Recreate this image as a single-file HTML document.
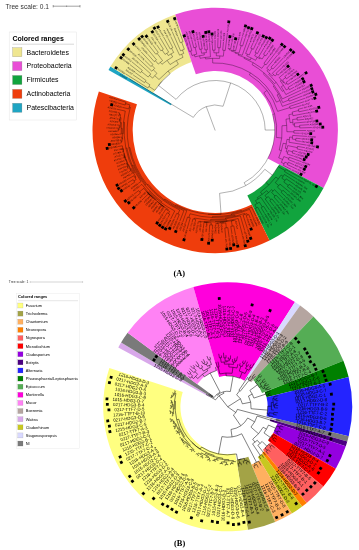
<!DOCTYPE html>
<html lang="en"><head><meta charset="utf-8"><title>Phylogenetic trees</title>
<style>
html,body{margin:0;padding:0;background:#fff}
body{width:359px;height:550px;overflow:hidden}
svg{display:block}
text{font-family:"Liberation Sans",Arial,sans-serif;fill:#000}
.ser{font-family:"Liberation Serif","Times New Roman",serif;font-weight:bold}
</style></head><body>
<svg width="359" height="550" viewBox="0 0 359 550">
<rect width="359" height="550" fill="#fff"/>
<g id="treeA">
<path d="M108.51 69.89A122.7 122.7 0 0 1 110.47 66.57L171.67 103.93A51 51 0 0 0 170.86 105.31Z" fill="#1FA5C3"/>
<path d="M110.47 66.57A122.7 122.7 0 0 1 175.25 14.48L191.6 61.95A72.5 72.5 0 0 0 153.32 92.73Z" fill="#EFE690"/>
<path d="M175.25 14.48A122.7 122.7 0 0 1 323.54 188.1L267.74 158.43A59.5 59.5 0 0 0 195.83 74.24Z" fill="#E94ED6"/>
<path d="M323.54 188.1A122.7 122.7 0 0 1 269.56 240.5L247.32 195.5A72.5 72.5 0 0 0 279.21 164.54Z" fill="#11A43E"/>
<path d="M269.56 240.5A122.7 122.7 0 0 1 98.84 91.57L136.96 104.32A82.5 82.5 0 0 0 251.75 204.46Z" fill="#EF3D0C"/>
<path d="M215.2 130.5L206.27 106.61M193.34 117.37A25.5 25.5 0 0 1 223.08 106.25M223.08 106.25L230.65 82.95M193.34 117.37L129.48 79M176.07 99.37A50 50 0 0 1 265.2 130.06M176.07 99.37L158.46 85.37M158.46 85.37A72.5 72.5 0 0 1 161.84 81.42M265.2 130.06L274.9 129.98M272.68 114.39A59.7 59.7 0 0 1 244.14 182.71M272.68 114.39L274.42 113.9M244.14 182.71L245.74 185.6M264.84 169.29A63 63 0 0 1 219.59 193.35M264.84 169.29L272.33 175.14M272.58 174.81A72.5 72.5 0 0 1 272.33 175.14M219.59 193.35L221.06 214.3M221.06 214.3A84 84 0 0 1 208.03 214.19" fill="none" stroke="#000" stroke-width="0.36" stroke-opacity="0.85"/>
<path d="M144.51 82.64A85.37 85.37 0 0 1 146.04 80.44M144.51 82.64L133.11 74.92M146.04 80.44L135.14 72.55M147.92 87.97A79.59 79.59 0 0 1 150 84.85M147.92 87.97L125.4 73.73M150 84.85L145.27 81.53M140.51 72.78A94.39 94.39 0 0 1 142.36 70.46M140.51 72.78L129.75 64.46M142.36 70.46L131.86 61.8M148.23 77.04A85.69 85.69 0 0 1 150.82 73.94M148.23 77.04L141.43 71.61M150.82 73.94L138.99 63.54M151.01 66.53A90.62 90.62 0 0 1 153.05 64.55M151.01 66.53L144.73 60.28M153.05 64.55L141.13 51.9M151.84 71.21A86.77 86.77 0 0 1 154.71 68.29M151.84 71.21L136.34 56.71M154.71 68.29L152.02 65.53M152.64 78.1A81.61 81.61 0 0 1 156.94 73.35M152.64 78.1L149.51 75.48M156.94 73.35L153.26 69.74M154.29 61.65A91.93 91.93 0 0 1 156.48 59.77M154.29 61.65L147.63 54.12M156.48 59.77L146.21 47.4M155.87 54.28A96.59 96.59 0 0 1 158.29 52.46M155.87 54.28L148.86 45.28M158.29 52.46L152.98 45.17M158.27 64.08A87.49 87.49 0 0 1 162.55 60.63M158.27 64.08L155.38 60.7M162.55 60.63L157.07 53.36M160.89 50.88A96.38 96.38 0 0 1 163.42 49.22M160.89 50.88L156.61 44.61M163.42 49.22L158.3 41.19M165.04 54.42A91.13 91.13 0 0 1 168.68 52.15M165.04 54.42L162.15 50.04M168.68 52.15L160.06 37.64M170.25 49.07A93.01 93.01 0 0 1 172.83 47.7M170.25 49.07L163.42 36.69M172.83 47.7L167.99 38.24M168.28 55.56A88.42 88.42 0 0 1 173.69 52.43M168.28 55.56L166.84 53.26M173.69 52.43L171.53 48.37M161.95 64.27A84.99 84.99 0 0 1 172.67 56.92M161.95 64.27L160.38 62.32M172.67 56.92L170.96 53.95M180.27 42.72A94.48 94.48 0 0 1 183.04 41.66M180.27 42.72L177.76 36.42M183.04 41.66L178.44 28.95M180.55 50.82A86.89 86.89 0 0 1 184.34 49.27M180.55 50.82L172.14 31.46M184.34 49.27L181.65 42.18M179.59 55.17A83.32 83.32 0 0 1 183.79 53.33M179.59 55.17L170.75 36.48M183.79 53.33L182.44 50.02M170.02 64.55A79.94 79.94 0 0 1 183.03 57.31M170.02 64.55L167.17 60.39M183.03 57.31L181.68 54.22M158.99 79.53A75.88 75.88 0 0 1 178.33 64.18M158.99 79.53L154.74 75.68M178.33 64.18L176.36 60.63M154.85 90.33A72.5 72.5 0 0 1 170.13 73.71M154.85 90.33L148.94 86.4M170.13 73.71L168.03 71.06M189.36 51.44A83.18 83.18 0 0 1 191.86 50.66M189.36 51.44L187.7 46.35M191.86 50.66L188.8 40.19M193.81 47.76A85.46 85.46 0 0 1 196.43 47.13M193.81 47.76L191.66 39.43M196.43 47.13L195.38 42.5M191.99 55.5A78.52 78.52 0 0 1 196.75 54.18M191.99 55.5L190.61 51.04M196.75 54.18L195.12 47.43M199.6 49.39A82.6 82.6 0 0 1 202.16 48.94M199.6 49.39L197.92 40.67M202.16 48.94L200.81 40.53M204.9 49.93A81.22 81.22 0 0 1 207.44 49.65M204.9 49.93L204.57 47.3M207.44 49.65L206.84 43.35M201.6 53.26A78.43 78.43 0 0 1 206.48 52.56M201.6 53.26L200.88 49.15M206.48 52.56L206.17 49.78M194.93 56.9A76.34 76.34 0 0 1 204.33 54.94M194.93 56.9L194.36 54.8M204.33 54.94L204.04 52.87M200.13 58.32A73.74 73.74 0 0 1 210.47 56.91M200.13 58.32L199.6 55.77M210.47 56.91L209.57 42.84M212.57 50.21A80.33 80.33 0 0 1 215.1 50.17M212.57 50.21L212.4 45.07M215.1 50.17L215.09 39.98M217.7 47.65A82.89 82.89 0 0 1 220.31 47.77M217.7 47.65L218 37.93M220.31 47.77L220.81 39.64M213.88 52.79A77.72 77.72 0 0 1 218.77 52.86M213.88 52.79L213.83 50.18M218.77 52.86L219.01 47.7M222.7 50.21A80.63 80.63 0 0 1 225.22 50.49M222.7 50.21L223.48 41.82M225.22 50.49L227.43 32.81M216.28 55.78A74.73 74.73 0 0 1 223.32 56.21M216.28 55.78L216.32 52.79M223.32 56.21L223.96 50.34M205.48 58.94A72.22 72.22 0 0 1 219.65 58.42M205.48 58.94L205.28 57.43M219.65 58.42L219.81 55.91M228.1 48.52A82.99 82.99 0 0 1 230.67 48.97M228.1 48.52L228.25 47.58M230.67 48.97L231.93 42.32M233.11 50.02A82.45 82.45 0 0 1 235.63 50.62M233.11 50.02L233.23 49.48M235.63 50.62L238.11 40.92M229.2 49.8A81.9 81.9 0 0 1 234.25 50.84M229.2 49.8L229.39 48.73M234.25 50.84L234.37 50.31M239.89 45.23A88.77 88.77 0 0 1 242.56 46.05M239.89 45.23L242.42 36.49M242.56 46.05L245.13 38.13M231.53 51.26A80.9 80.9 0 0 1 238.93 53.15M231.53 51.26L231.73 50.28M238.93 53.15L241.23 45.63M235 53.09A79.9 79.9 0 0 1 242.21 55.3M235 53.09L235.25 52.12M242.21 55.3L248.07 38.99M250.76 48.19A89.67 89.67 0 0 1 253.33 49.34M250.76 48.19L253.02 42.95M253.33 49.34L256.62 42.33M245.64 53.44A82.85 82.85 0 0 1 249.25 54.97M245.64 53.44L249.89 42.69M249.25 54.97L252.05 48.75M255.02 52.25A87.8 87.8 0 0 1 257.46 53.54M255.02 52.25L258.18 46.02M257.46 53.54L260.94 47.19M263.51 54.31A90.22 90.22 0 0 1 265.88 55.86M263.51 54.31L266.5 49.59M265.88 55.86L268.15 52.52M258.69 56.88A85.5 85.5 0 0 1 262.11 59.02M258.69 56.88L264.11 47.7M262.11 59.02L264.7 55.08M254.68 55.83A84.46 84.46 0 0 1 259.86 58.81M254.68 55.83L256.24 52.88M259.86 58.81L260.41 57.93M246.72 55.93A80.96 80.96 0 0 1 255.55 60.32M246.72 55.93L247.45 54.18M255.55 60.32L257.3 57.28M238.29 55.23A78.73 78.73 0 0 1 250.21 59.98M238.29 55.23L238.63 54.11M250.21 59.98L251.2 57.99M263.93 63.38A82.95 82.95 0 0 1 266.02 64.94M263.93 63.38L269.72 55.41M266.02 64.94L275.12 53.21M243.98 58.29A77.73 77.73 0 0 1 261.85 68.33M243.98 58.29L244.35 57.36M261.85 68.33L264.98 64.15M270.93 67.26A84.29 84.29 0 0 1 272.89 69.05M270.93 67.26L274.03 63.74M272.89 69.05L283.21 58.06M266.7 68.22A80.82 80.82 0 0 1 269.58 70.72M266.7 68.22L277.55 55.1M269.58 70.72L271.92 68.15M276.14 73.27A83.6 83.6 0 0 1 277.91 75.21M276.14 73.27L281.81 67.94M277.91 75.21L279.78 73.57M272.41 73.27A80.92 80.92 0 0 1 275.05 76.04M272.41 73.27L285.67 60.02M275.05 76.04L277.03 74.23M266.95 70.84A78.98 78.98 0 0 1 272.34 75.98M266.95 70.84L268.15 69.45M272.34 75.98L273.75 74.64M284.78 76.54A88.05 88.05 0 0 1 286.44 78.75M284.78 76.54L287.01 74.81M286.44 78.75L289.87 76.26M286.2 82.26A85.84 85.84 0 0 1 287.69 84.52M286.2 82.26L288.75 80.54M287.69 84.52L296.75 78.77M282.52 79.97A84.18 84.18 0 0 1 285.56 84.3M282.52 79.97L285.62 77.64M285.56 84.3L286.95 83.38M279.29 77.48A83.18 83.18 0 0 1 283.26 82.68M279.29 77.48L284.13 73.48M283.26 82.68L284.07 82.11M288.17 87.37A84.77 84.77 0 0 1 289.5 89.68M288.17 87.37L293.19 84.4M289.5 89.68L294.34 87.02M280.24 80.87A81.81 81.81 0 0 1 286.27 89.99M280.24 80.87L281.32 80.04M286.27 89.99L288.84 88.52M281.28 86.73A79.26 79.26 0 0 1 285.84 94.54M281.28 86.73L283.41 85.33M285.84 94.54L296.46 89.13M268.81 74.28A77.68 77.68 0 0 1 282.31 91.37M268.81 74.28L269.71 73.34M282.31 91.37L283.67 90.57M252.15 64.67A75.49 75.49 0 0 1 274.44 83.71M252.15 64.67L253.24 62.72M274.44 83.71L276.16 82.35M263.39 74.08A74.2 74.2 0 0 1 282.35 98.93M263.39 74.08L264.23 73.1M282.35 98.93L301.22 90.06M288.42 98.85A79.76 79.76 0 0 1 289.38 101.17M288.42 98.85L301.75 93.09M289.38 101.17L302.56 95.96M273.31 86.17A73.08 73.08 0 0 1 282.73 102.56M273.31 86.17L274.2 85.49M282.73 102.56L288.9 100.01M277.07 94.91A71.37 71.37 0 0 1 282.37 106.36M277.07 94.91L278.55 94.06M282.37 106.36L305.46 98.06M212.72 63A67.55 67.55 0 0 1 276.5 102.13M212.72 63L212.55 58.33M276.5 102.13L279.97 100.52M289.63 106.36A78.24 78.24 0 0 1 290.35 108.72M289.63 106.36L304.37 101.58M290.35 108.72L301.54 105.47M249.36 74.83A65.31 65.31 0 0 1 277.64 111.33M249.36 74.83L250.53 72.92M277.64 111.33L290 107.54M298.29 109.22A85.77 85.77 0 0 1 298.92 111.85M298.29 109.22L303.42 107.91M298.92 111.85L308.08 109.81M292.14 112.08A79.12 79.12 0 0 1 292.93 115.73M292.14 112.08L298.62 110.53M292.93 115.73L305.85 113.28M296.96 117.62A82.77 82.77 0 0 1 297.33 120.2M296.96 117.62L302.13 116.8M297.33 120.2L304.35 119.31M299.64 125.27A84.6 84.6 0 0 1 299.76 127.93M299.64 125.27L309.22 124.67M299.76 127.93L311.8 127.56M294.4 123.08A79.55 79.55 0 0 1 294.66 126.83M294.4 123.08L305.92 122.01M294.66 126.83L299.71 126.6M292.57 119.55A78.14 78.14 0 0 1 293.15 125.05M292.57 119.55L297.16 118.91M293.15 125.05L294.55 124.96M288.82 114.71A75.29 75.29 0 0 1 290.08 122.6M288.82 114.71L292.56 113.9M290.08 122.6L292.91 122.3M293.91 130.58A78.71 78.71 0 0 1 293.87 133.06M293.91 130.58L306.11 130.59M293.87 133.06L299.75 133.25M285.98 119.21A71.68 71.68 0 0 1 286.87 131.7M285.98 119.21L289.55 118.64M286.87 131.7L293.9 131.82M295.91 138.22A81.08 81.08 0 0 1 295.63 140.76M295.91 138.22L300.76 138.69M295.63 140.76L300.83 141.42M292.64 135.46A77.6 77.6 0 0 1 292.32 139.11M292.64 135.46L306.94 136.38M292.32 139.11L295.78 139.49M289.64 137.03A74.73 74.73 0 0 1 288.99 142.28M289.64 137.03L292.5 137.29M288.99 142.28L306.65 145.1M297.59 146.33A83.9 83.9 0 0 1 297.05 148.91M297.59 146.33L305.09 147.77M297.05 148.91L303.54 150.37M292.82 150.54A80.16 80.16 0 0 1 292.15 152.98M292.82 150.54L297.5 151.75M292.15 152.98L295.61 153.99M288.23 150.59A75.74 75.74 0 0 1 287.2 154.01M288.23 150.59L292.49 151.76M287.2 154.01L293.75 156.15M287.73 145.62A74.09 74.09 0 0 1 286.15 151.83M287.73 145.62L297.33 147.62M286.15 151.83L287.73 152.31M286.95 139.37A72.3 72.3 0 0 1 285.27 148.3M286.95 139.37L289.36 139.66M285.27 148.3L287.01 148.74M289.22 157.28A78.72 78.72 0 0 1 288.34 159.59M289.22 157.28L301.63 161.77M288.34 159.59L295.47 162.43M288.39 162.31A79.8 79.8 0 0 1 287.35 164.6M288.39 162.31L294.24 164.86M287.35 164.6L297.11 169.21M284.9 162.11A76.53 76.53 0 0 1 283.33 165.36M284.9 162.11L287.88 163.46M283.33 165.36L291.24 169.41M283.82 156.55A73.4 73.4 0 0 1 281.31 162.38M283.82 156.55L288.79 158.44M281.31 162.38L284.13 163.74M283.14 143.28A69.13 69.13 0 0 1 278.71 157.81M283.14 143.28L286.25 143.86M278.71 157.81L282.63 159.5M281.99 125.77A66.96 66.96 0 0 1 279.25 150.03M281.99 125.77L286.7 125.43M279.25 150.03L281.33 150.67M263.82 92.83A61.5 61.5 0 0 1 276.31 137.41M263.82 92.83L266.83 90.5M276.31 137.41L281.74 138.03M285.79 169.45A80.62 80.62 0 0 1 284.54 171.63M285.79 169.45L303.09 179M284.54 171.63L296.97 179.01M289.15 184.29A91.44 91.44 0 0 1 287.44 186.57M289.15 184.29L293.57 187.51M287.44 186.57L291.83 189.98M286.14 178.8A85.83 85.83 0 0 1 283.81 182.06M286.14 178.8L294.75 184.66M283.81 182.06L288.3 185.44M284.34 174.48A81.94 81.94 0 0 1 281.84 178.18M284.34 174.48L295.46 181.56M281.84 178.18L285 180.44M282.95 190.21A90.31 90.31 0 0 1 281.06 192.29M282.95 190.21L286.96 193.74M281.06 192.29L285.94 196.87M279.96 184.08A84.05 84.05 0 0 1 277.39 187.05M279.96 184.08L289.94 192.33M277.39 187.05L282.02 191.26M281.14 175.02A79.56 79.56 0 0 1 275.3 182.64M281.14 175.02L283.11 176.35M275.3 182.64L278.69 185.58M275.99 195.1A88.71 88.71 0 0 1 273.95 196.97M275.99 195.1L281.59 201.06M273.95 196.97L279.44 203.18M274.48 189.69A83.78 83.78 0 0 1 271.65 192.4M274.48 189.69L283.18 198.38M271.65 192.4L274.98 196.04M271.91 198.84A88.81 88.81 0 0 1 269.76 200.58M271.91 198.84L275.92 203.67M269.76 200.58L273.91 205.91M268.29 196.54A84.73 84.73 0 0 1 265.14 198.95M268.29 196.54L270.84 199.72M265.14 198.95L270.89 206.83M271.75 189.67A81.85 81.85 0 0 1 264.98 195.48M271.75 189.67L273.08 191.06M264.98 195.48L266.73 197.76M263.52 206.21A89.81 89.81 0 0 1 261.14 207.67M263.52 206.21L267.39 212.27M261.14 207.67L264.72 213.69M257.7 207.25A87.73 87.73 0 0 1 255.29 208.54M257.7 207.25L262.11 215.2M255.29 208.54L258.86 215.48M259.37 202.14A84.17 84.17 0 0 1 254.82 204.76M259.37 202.14L262.33 206.95M254.82 204.76L256.5 207.9M260.81 197.28A80.86 80.86 0 0 1 255.47 200.62M260.81 197.28L269.47 209.96M255.47 200.62L257.12 203.49M266.74 190.67A79.23 79.23 0 0 1 257.3 197.61M266.74 190.67L268.45 192.67M257.3 197.61L258.17 199M275.88 177.04A76.47 76.47 0 0 1 260.52 192.1M275.88 177.04L278.33 178.91M260.52 192.1L262.15 194.32M278.12 166.51A72.5 72.5 0 0 1 265.95 182.27M278.12 166.51L285.17 170.55M265.95 182.27L268.73 185.11M248.82 214.54A90.51 90.51 0 0 1 246.17 215.55M248.82 214.54L250.29 218.21M246.17 215.55L247.33 218.74M246.96 213.64A89 89 0 0 1 243.02 215.04M246.96 213.64L247.5 215.05M243.02 215.04L247.25 227.92M233.77 225.85A97.15 97.15 0 0 1 230.77 226.39M233.77 225.85L235.62 235.31M230.77 226.39L232 233.91M235.59 220.08A91.88 91.88 0 0 1 231.35 220.94M235.59 220.08L235.61 220.21M231.35 220.94L232.28 226.13M227.86 227.62A97.94 97.94 0 0 1 224.81 227.96M227.86 227.62L229.16 237.59M224.81 227.96L225.8 237.98M225.77 222.83A92.93 92.93 0 0 1 221.41 223.22M225.77 222.83L226.34 227.8M221.41 223.22L221.44 223.62M218.51 223.72A93.28 93.28 0 0 1 215.59 223.78M218.51 223.72L218.55 224.68M215.59 223.78L215.59 224.52M223.56 222.66A92.54 92.54 0 0 1 217.04 223.02M223.56 222.66L223.59 223.05M217.04 223.02L217.05 223.76M233.45 220.42A91.75 91.75 0 0 1 220.26 222.11M233.45 220.42L233.47 220.54M220.26 222.11L220.3 222.9M212.63 224.96A94.5 94.5 0 0 1 209.67 224.84M212.63 224.96L212.51 229.18M209.67 224.84L209.24 232.17M206.88 222.71A92.58 92.58 0 0 1 204 222.4M206.88 222.71L206.87 222.85M204 222.4L203.24 228.62M211.24 222.84A92.42 92.42 0 0 1 205.46 222.41M211.24 222.84L211.15 224.91M205.46 222.41L205.44 222.57M201.09 222.16A92.74 92.74 0 0 1 198.23 221.68M201.09 222.16L201 222.78M198.23 221.68L197.74 224.31M208.37 222.36A92.11 92.11 0 0 1 199.76 221.31M208.37 222.36L208.34 222.67M199.76 221.31L199.66 221.93M226.85 221.26A91.5 91.5 0 0 1 204.13 221.33M226.85 221.26L226.88 221.5M204.13 221.33L204.05 221.94M238.16 218.55A91 91 0 0 1 215.49 221.5M238.16 218.55L242.46 235M215.49 221.5L215.49 222M195.73 219.46A91.06 91.06 0 0 1 192.95 218.8M195.73 219.46L195.22 221.81M192.95 218.8L192.02 222.51M226.79 219.75A90 90 0 0 1 194.59 218.11M226.79 219.75L226.92 220.74M194.59 218.11L194.34 219.14M240.35 215.87A89 89 0 0 1 210.67 219.38M240.35 215.87L244.69 230.59M210.67 219.38L210.61 220.38M244.66 213.42A88 88 0 0 1 225.54 217.89M244.66 213.42L245 214.36M225.54 217.89L225.66 218.88M190.25 217.87A90.86 90.86 0 0 1 187.52 217.04M190.25 217.87L187.04 229.13M187.52 217.04L185.64 222.92M235 215.22A87 87 0 0 1 190 213.77M235 215.22L235.23 216.19M190 213.77L188.88 217.46M249.64 209.3A86 86 0 0 1 212.44 216.46M249.64 209.3L253.37 217.86M212.44 216.46L212.4 217.46M251.66 207.28A85 85 0 0 1 231.25 213.97M251.66 207.28L255.97 216.35M231.25 213.97L231.43 214.95M179.31 214.54A91.38 91.38 0 0 1 176.69 213.37M179.31 214.54L176.75 220.53M176.69 213.37L174.36 218.38M169.72 214.19A95.25 95.25 0 0 1 167.12 212.73M169.72 214.19L167.86 217.62M167.12 212.73L165.31 215.83M169.58 211.4A92.88 92.88 0 0 1 165.83 209.17M169.58 211.4L168.42 213.47M165.83 209.17L162.97 213.71M163.89 206.83A91.97 91.97 0 0 1 161.52 205.18M163.89 206.83L163.87 206.85M161.52 205.18L161.5 205.2M162.72 205.99A91.94 91.94 0 0 1 159.22 203.43M162.72 205.99L162.7 206.01M159.22 203.43L158.08 204.92M168.2 209.45A91.88 91.88 0 0 1 160.99 204.68M168.2 209.45L167.69 210.31M160.99 204.68L160.96 204.73M164.61 207.05A91.75 91.75 0 0 1 157.08 201.5M164.61 207.05L164.54 207.15M157.08 201.5L156.88 201.75M150.5 195.89A91.98 91.98 0 0 1 148.49 193.83M150.5 195.89L150.49 195.9M148.49 193.83L141.73 200.24M149.5 194.86A91.97 91.97 0 0 1 146.54 191.69M149.5 194.86L149.49 194.87M146.54 191.69L146.46 191.77M152.62 197.85A91.94 91.94 0 0 1 148.02 193.27M152.62 197.85L151.72 198.82M148.02 193.27L148 193.29M140.55 192.95A97.33 97.33 0 0 1 138.63 190.58M140.55 192.95L137.27 195.69M138.63 190.58L134.03 194.18M150.32 195.56A91.88 91.88 0 0 1 143.81 188.34M150.32 195.56L150.28 195.6M143.81 188.34L139.58 191.77M154.88 199.64A91.75 91.75 0 0 1 147.06 191.95M154.88 199.64L154.35 200.26M147.06 191.95L146.97 192.03M160.92 204.17A91.51 91.51 0 0 1 151.03 195.74M160.92 204.17L160.77 204.37M151.03 195.74L150.86 195.91M156.15 199.76A91.01 91.01 0 0 1 141.87 184.41M156.15 199.76L155.83 200.13M141.87 184.41L140.28 185.57M174.72 210.92A90.03 90.03 0 0 1 149.28 191.82M174.72 210.92L170.6 219.1M149.28 191.82L148.56 192.49M134.76 182.19A95.62 95.62 0 0 1 133.17 179.64M134.76 182.19L130.64 184.83M133.17 179.64L128.04 182.72M136.16 179.56A93.03 93.03 0 0 1 133.94 175.79M136.16 179.56L133.96 180.92M133.94 175.79L126.7 179.82M128.13 168.79A95.11 95.11 0 0 1 126.98 166.04M128.13 168.79L127.67 168.99M126.98 166.04L126.35 166.29M128.05 167.2A94.57 94.57 0 0 1 126.42 163.06M128.05 167.2L127.54 167.42M126.42 163.06L125.79 163.3M124.39 157.48A94.73 94.73 0 0 1 123.59 154.62M124.39 157.48L122.44 158.06M123.59 154.62L123.4 154.67M125.52 160.24A94.48 94.48 0 0 1 124.22 155.99M125.52 160.24L125.07 160.39M124.22 155.99L123.98 156.05M123.45 151.6A94.15 94.15 0 0 1 122.83 148.72M123.45 151.6L122.02 151.93M122.83 148.72L122.8 148.72M123.16 150.15A94.11 94.11 0 0 1 122.34 145.8M123.16 150.15L123.13 150.16M122.34 145.8L118.04 146.51M125.27 157.99A94.04 94.04 0 0 1 122.8 147.97M125.27 157.99L124.84 158.12M122.8 147.97L122.73 147.98M127.83 164.9A93.89 93.89 0 0 1 124.04 152.98M127.83 164.9L127.21 165.14M124.04 152.98L123.9 153.01M130.74 170.85A93.61 93.61 0 0 1 126.01 158.91M130.74 170.85L128.83 171.76M126.01 158.91L125.74 159M132.56 173.21A93.03 93.03 0 0 1 128.7 164.75M132.56 173.21L131.05 173.99M128.7 164.75L128.17 164.96M135.89 177.18A92.03 92.03 0 0 1 131.43 168.62M135.89 177.18L135.02 177.68M131.43 168.62L130.52 169.03M121.33 142.96A94.69 94.69 0 0 1 120.99 140.01M121.33 142.96L120.28 143.1M120.99 140.01L119.73 140.14M122.17 141.37A93.66 93.66 0 0 1 121.76 136.98M122.17 141.37L121.15 141.49M121.76 136.98L121.13 137.02M118.24 131.13A96.96 96.96 0 0 1 118.27 128.09M118.24 131.13L117.32 131.14M118.27 128.09L115.4 128.02M119.17 129.62A96.03 96.03 0 0 1 119.32 125.1M119.17 129.62L118.25 129.61M119.32 125.1L116.56 124.95M119.19 122.07A96.38 96.38 0 0 1 119.51 119.06M119.19 122.07L118.75 122.03M119.51 119.06L118.47 118.94M119.07 115.94A97.23 97.23 0 0 1 119.58 112.93M119.07 115.94L118.1 115.79M119.58 112.93L117.8 112.6M119.78 120.61A95.93 95.93 0 0 1 120.59 114.65M119.78 120.61L119.34 120.56M120.59 114.65L119.31 114.43M120.22 127.39A95.03 95.03 0 0 1 121.03 117.74M120.22 127.39L119.22 127.36M121.03 117.74L120.14 117.62M121.24 134.06A94.03 94.03 0 0 1 121.5 122.64M121.24 134.06L119.25 134.13M121.5 122.64L120.5 122.56M122.57 139.12A93.03 93.03 0 0 1 122.19 128.37M122.57 139.12L121.94 139.18M122.19 128.37L121.19 128.35M123.23 133.71A92.03 92.03 0 0 1 125.25 111.04M123.23 133.71L122.23 133.75M125.25 111.04L116.62 109.17M134.44 172.49A91.03 91.03 0 0 1 124.53 122.4M134.44 172.49L133.55 172.96M124.53 122.4L123.54 122.31M141.02 181.52A90.03 90.03 0 0 1 126.88 147.96M141.02 181.52L138.18 183.48M126.88 147.96L125.9 148.16M161.75 201.7A89.03 89.03 0 0 1 133.16 165.08M161.75 201.7L161.15 202.5M133.16 165.08L132.24 165.46M125.18 105.02A93.56 93.56 0 0 1 126.02 102.21M125.18 105.02L117.92 102.97M126.02 102.21L117.98 99.66M128.82 108.95A89.03 89.03 0 0 1 129.93 104.91M128.82 108.95L122.37 107.34M129.93 104.91L125.59 103.61M145.81 184.67A88.03 88.03 0 0 1 130.31 107.19M145.81 184.67L145.02 185.29M130.31 107.19L129.35 106.93M179.77 209.99A87.03 87.03 0 0 1 129.86 147.57M179.77 209.99L177.99 213.96M129.86 147.57L128.88 147.77M183.91 210.64A86.03 86.03 0 0 1 148.01 184.22M183.91 210.64L179.77 221.23M148.01 184.22L147.23 184.85M186.77 210.64A85.03 85.03 0 0 1 164.81 198.99M186.77 210.64L182.64 222.27M164.81 198.99L164.22 199.8M241.35 210.32A84 84 0 0 1 175.85 204.71M241.35 210.32L241.67 211.27M175.85 204.71L175.36 205.62" fill="none" stroke="#000" stroke-width="0.4" stroke-opacity="0.85"/>
<g font-size="2.3" fill-opacity="0.88">
<text transform="translate(127.02 78.56) rotate(30.5)" y="0.8" text-anchor="end">ASV565</text>
<text transform="translate(124.89 73.41) rotate(32.3)" y="0.8" text-anchor="end">ASV568</text>
<text transform="translate(132.61 74.59) rotate(34.1)" y="0.8" text-anchor="end">ASV937</text>
<text transform="translate(134.65 72.19) rotate(35.9)" y="0.8" text-anchor="end">ASV398</text>
<text transform="translate(129.27 64.09) rotate(37.7)" y="0.8" text-anchor="end">ASV984</text>
<text transform="translate(131.4 61.42) rotate(39.5)" y="0.8" text-anchor="end">ASV819</text>
<text transform="translate(138.53 63.15) rotate(41.3)" y="0.8" text-anchor="end">ASV536</text>
<text transform="translate(135.9 56.3) rotate(43.1)" y="0.8" text-anchor="end">ASV609</text>
<text transform="translate(144.31 59.86) rotate(44.9)" y="0.8" text-anchor="end">ASV915</text>
<text transform="translate(140.72 51.46) rotate(46.7)" y="0.8" text-anchor="end">ASV477</text>
<text transform="translate(147.23 53.67) rotate(48.5)" y="0.8" text-anchor="end">ASV854</text>
<text transform="translate(145.83 46.94) rotate(50.3)" y="0.8" text-anchor="end">ASV853</text>
<text transform="translate(148.49 44.81) rotate(52.1)" y="0.8" text-anchor="end">ASV687</text>
<text transform="translate(152.62 44.68) rotate(53.9)" y="0.8" text-anchor="end">ASV632</text>
<text transform="translate(156.27 44.11) rotate(55.7)" y="0.8" text-anchor="end">ASV185</text>
<text transform="translate(157.98 40.68) rotate(57.5)" y="0.8" text-anchor="end">ASV524</text>
<text transform="translate(159.76 37.12) rotate(59.3)" y="0.8" text-anchor="end">ASV372</text>
<text transform="translate(163.13 36.17) rotate(61.1)" y="0.8" text-anchor="end">ASV453</text>
<text transform="translate(167.72 37.71) rotate(62.9)" y="0.8" text-anchor="end">ASV706</text>
<text transform="translate(170.5 35.93) rotate(64.7)" y="0.8" text-anchor="end">ASV905</text>
<text transform="translate(171.9 30.91) rotate(66.5)" y="0.8" text-anchor="end">ASV375</text>
<text transform="translate(177.54 35.86) rotate(68.3)" y="0.8" text-anchor="end">ASV169</text>
<text transform="translate(178.23 28.38) rotate(70.1)" y="0.8" text-anchor="end">ASV872</text>
<text transform="translate(187.51 45.78) rotate(71.9)" y="0.8" text-anchor="end">ASV795</text>
<text transform="translate(188.63 39.62) rotate(73.7)" y="0.8" text-anchor="end">ASV808</text>
<text transform="translate(191.51 38.85) rotate(75.51)" y="0.8" text-anchor="end">ASV139</text>
<text transform="translate(195.25 41.91) rotate(77.31)" y="0.8" text-anchor="end">ASV297</text>
<text transform="translate(197.81 40.08) rotate(79.11)" y="0.8" text-anchor="end">ASV350</text>
<text transform="translate(200.72 39.94) rotate(80.91)" y="0.8" text-anchor="end">ASV911</text>
<text transform="translate(204.49 46.71) rotate(82.72)" y="0.8" text-anchor="end">ASV488</text>
<text transform="translate(206.78 42.75) rotate(84.52)" y="0.8" text-anchor="end">ASV838</text>
<text transform="translate(209.53 42.24) rotate(86.32)" y="0.8" text-anchor="end">ASV423</text>
<text transform="translate(212.38 44.47) rotate(88.12)" y="0.8" text-anchor="end">ASV344</text>
<text transform="translate(215.08 39.38) rotate(89.93)" y="0.8" text-anchor="end">ASV601</text>
<text transform="translate(218.01 37.33) rotate(271.73)" y="0.8">ASV678</text>
<text transform="translate(220.85 39.04) rotate(273.53)" y="0.8">ASV209</text>
<text transform="translate(223.54 41.23) rotate(275.34)" y="0.8">ASV428</text>
<text transform="translate(227.51 32.21) rotate(277.14)" y="0.8">ASV241</text>
<text transform="translate(228.34 46.99) rotate(278.94)" y="0.8">ASV669</text>
<text transform="translate(232.04 41.73) rotate(280.74)" y="0.8">ASV835</text>
<text transform="translate(233.36 48.9) rotate(282.55)" y="0.8">ASV189</text>
<text transform="translate(238.26 40.34) rotate(284.35)" y="0.8">ASV676</text>
<text transform="translate(242.59 35.92) rotate(286.15)" y="0.8">ASV881</text>
<text transform="translate(245.31 37.56) rotate(287.95)" y="0.8">ASV713</text>
<text transform="translate(248.27 38.43) rotate(289.76)" y="0.8">ASV434</text>
<text transform="translate(250.12 42.13) rotate(291.56)" y="0.8">ASV476</text>
<text transform="translate(253.25 42.4) rotate(293.36)" y="0.8">ASV243</text>
<text transform="translate(256.88 41.78) rotate(295.16)" y="0.8">ASV427</text>
<text transform="translate(258.45 45.49) rotate(296.97)" y="0.8">ASV755</text>
<text transform="translate(261.23 46.66) rotate(298.77)" y="0.8">ASV683</text>
<text transform="translate(264.42 47.18) rotate(300.57)" y="0.8">ASV812</text>
<text transform="translate(266.82 49.09) rotate(302.38)" y="0.8">ASV949</text>
<text transform="translate(268.48 52.03) rotate(304.18)" y="0.8">ASV936</text>
<text transform="translate(270.07 54.92) rotate(305.98)" y="0.8">ASV580</text>
<text transform="translate(275.48 52.73) rotate(307.78)" y="0.8">ASV773</text>
<text transform="translate(277.93 54.63) rotate(309.59)" y="0.8">ASV493</text>
<text transform="translate(274.43 63.29) rotate(311.39)" y="0.8">ASV945</text>
<text transform="translate(283.62 57.62) rotate(313.19)" y="0.8">ASV592</text>
<text transform="translate(286.09 59.59) rotate(314.99)" y="0.8">ASV836</text>
<text transform="translate(282.25 67.53) rotate(316.8)" y="0.8">ASV422</text>
<text transform="translate(280.23 73.17) rotate(318.6)" y="0.8">ASV246</text>
<text transform="translate(284.59 73.09) rotate(320.4)" y="0.8">ASV190</text>
<text transform="translate(287.48 74.44) rotate(322.2)" y="0.8">ASV610</text>
<text transform="translate(290.36 75.91) rotate(324.01)" y="0.8">ASV546</text>
<text transform="translate(289.24 80.2) rotate(325.81)" y="0.8">ASV769</text>
<text transform="translate(297.25 78.45) rotate(327.61)" y="0.8">ASV571</text>
<text transform="translate(293.71 84.1) rotate(329.41)" y="0.8">ASV352</text>
<text transform="translate(294.87 86.73) rotate(331.22)" y="0.8">ASV324</text>
<text transform="translate(296.99 88.86) rotate(333.02)" y="0.8">ASV341</text>
<text transform="translate(301.76 89.81) rotate(334.82)" y="0.8">ASV825</text>
<text transform="translate(302.3 92.85) rotate(336.62)" y="0.8">ASV314</text>
<text transform="translate(303.12 95.74) rotate(338.43)" y="0.8">ASV866</text>
<text transform="translate(306.02 97.86) rotate(340.23)" y="0.8">ASV897</text>
<text transform="translate(304.94 101.4) rotate(342.03)" y="0.8">ASV772</text>
<text transform="translate(302.12 105.31) rotate(343.84)" y="0.8">ASV517</text>
<text transform="translate(304 107.76) rotate(345.64)" y="0.8">ASV626</text>
<text transform="translate(308.66 109.68) rotate(347.44)" y="0.8">ASV919</text>
<text transform="translate(306.44 113.17) rotate(349.24)" y="0.8">ASV178</text>
<text transform="translate(302.72 116.71) rotate(351.05)" y="0.8">ASV570</text>
<text transform="translate(304.94 119.24) rotate(352.85)" y="0.8">ASV402</text>
<text transform="translate(306.52 121.95) rotate(354.65)" y="0.8">ASV410</text>
<text transform="translate(309.82 124.64) rotate(356.45)" y="0.8">ASV920</text>
<text transform="translate(312.4 127.54) rotate(358.26)" y="0.8">ASV340</text>
<text transform="translate(306.71 130.59) rotate(0.06)" y="0.8">ASV542</text>
<text transform="translate(300.34 133.27) rotate(1.86)" y="0.8">ASV124</text>
<text transform="translate(307.54 136.41) rotate(3.66)" y="0.8">ASV408</text>
<text transform="translate(301.36 138.75) rotate(5.47)" y="0.8">ASV331</text>
<text transform="translate(301.43 141.5) rotate(7.27)" y="0.8">ASV643</text>
<text transform="translate(307.24 145.2) rotate(9.07)" y="0.8">ASV948</text>
<text transform="translate(305.68 147.88) rotate(10.88)" y="0.8">ASV131</text>
<text transform="translate(304.13 150.5) rotate(12.68)" y="0.8">ASV976</text>
<text transform="translate(298.08 151.9) rotate(14.48)" y="0.8">ASV181</text>
<text transform="translate(296.18 154.15) rotate(16.28)" y="0.8">ASV330</text>
<text transform="translate(294.32 156.34) rotate(18.09)" y="0.8">ASV943</text>
<text transform="translate(302.2 161.97) rotate(19.89)" y="0.8">ASV554</text>
<text transform="translate(296.02 162.65) rotate(21.69)" y="0.8">ASV113</text>
<text transform="translate(294.79 165.1) rotate(23.49)" y="0.8">ASV198</text>
<text transform="translate(297.66 169.47) rotate(25.3)" y="0.8">ASV520</text>
<text transform="translate(291.77 169.68) rotate(27.1)" y="0.8">ASV135</text>
<text transform="translate(303.61 179.29) rotate(28.89)" y="0.8">ASV910_Clo</text>
<text transform="translate(297.49 179.32) rotate(30.68)" y="0.8">ASV447</text>
<text transform="translate(295.97 181.88) rotate(32.46)" y="0.8">ASV842_Bac</text>
<text transform="translate(295.25 185) rotate(34.25)" y="0.8">ASV995_Sta</text>
<text transform="translate(294.06 187.86) rotate(36.03)" y="0.8">ASV175</text>
<text transform="translate(292.3 190.34) rotate(37.82)" y="0.8">ASV994_Bac</text>
<text transform="translate(290.4 192.72) rotate(39.6)" y="0.8">ASV231_Bac</text>
<text transform="translate(287.41 194.14) rotate(41.39)" y="0.8">ASV483</text>
<text transform="translate(286.38 197.28) rotate(43.17)" y="0.8">ASV607_Sta</text>
<text transform="translate(283.6 198.8) rotate(44.96)" y="0.8">ASV532_Pae</text>
<text transform="translate(282 201.5) rotate(46.74)" y="0.8">ASV347</text>
<text transform="translate(279.84 203.63) rotate(48.53)" y="0.8">ASV494_Pae</text>
<text transform="translate(276.31 204.14) rotate(50.31)" y="0.8">ASV914_Clo</text>
<text transform="translate(274.28 206.39) rotate(52.1)" y="0.8">ASV651</text>
<text transform="translate(271.25 207.31) rotate(53.88)" y="0.8">ASV278_Clo</text>
<text transform="translate(269.81 210.46) rotate(55.67)" y="0.8">ASV283_Clo</text>
<text transform="translate(267.71 212.77) rotate(57.45)" y="0.8">ASV378</text>
<text transform="translate(265.02 214.2) rotate(59.24)" y="0.8">ASV333_Clo</text>
<text transform="translate(262.4 215.72) rotate(61.02)" y="0.8">ASV719_Sta</text>
<text transform="translate(259.13 216.01) rotate(62.81)" y="0.8">ASV348</text>
<text transform="translate(256.23 216.89) rotate(64.6)" y="0.8">ASV141</text>
<text transform="translate(253.61 218.41) rotate(66.4)" y="0.8">ASV496</text>
<text transform="translate(250.52 218.77) rotate(68.19)" y="0.8">ASV685</text>
<text transform="translate(247.54 219.31) rotate(69.99)" y="0.8">ASV207</text>
<text transform="translate(247.44 228.49) rotate(71.79)" y="0.8">ASV397</text>
<text transform="translate(244.86 231.16) rotate(73.59)" y="0.8">ASV944</text>
<text transform="translate(242.61 235.58) rotate(75.38)" y="0.8">ASV566</text>
<text transform="translate(235.75 220.79) rotate(77.18)" y="0.8">ASV144</text>
<text transform="translate(235.73 235.89) rotate(78.98)" y="0.8">ASV802</text>
<text transform="translate(232.09 234.5) rotate(80.77)" y="0.8">ASV414</text>
<text transform="translate(229.24 238.19) rotate(82.57)" y="0.8">ASV322</text>
<text transform="translate(225.86 238.58) rotate(84.37)" y="0.8">ASV764</text>
<text transform="translate(221.48 224.22) rotate(86.17)" y="0.8">ASV547</text>
<text transform="translate(218.57 225.28) rotate(87.96)" y="0.8">ASV650</text>
<text transform="translate(215.59 225.12) rotate(89.76)" y="0.8">ASV412</text>
<text transform="translate(212.5 229.78) rotate(-88.44)" y="0.8" text-anchor="end">ASV896</text>
<text transform="translate(209.2 232.77) rotate(-86.64)" y="0.8" text-anchor="end">ASV106</text>
<text transform="translate(206.82 223.45) rotate(-84.85)" y="0.8" text-anchor="end">ASV788</text>
<text transform="translate(203.17 229.21) rotate(-83.05)" y="0.8" text-anchor="end">ASV281</text>
<text transform="translate(200.91 223.38) rotate(-81.25)" y="0.8" text-anchor="end">ASV387</text>
<text transform="translate(197.63 224.9) rotate(-79.45)" y="0.8" text-anchor="end">ASV311</text>
<text transform="translate(195.09 222.4) rotate(-77.66)" y="0.8" text-anchor="end">ASV958</text>
<text transform="translate(191.87 223.09) rotate(-75.86)" y="0.8" text-anchor="end">ASV744</text>
<text transform="translate(186.87 229.7) rotate(-74.06)" y="0.8" text-anchor="end">ASV360</text>
<text transform="translate(185.46 223.49) rotate(-72.27)" y="0.8" text-anchor="end">ASV523</text>
<text transform="translate(182.44 222.84) rotate(-70.47)" y="0.8" text-anchor="end">ASV133</text>
<text transform="translate(179.55 221.79) rotate(-68.67)" y="0.8" text-anchor="end">ASV351</text>
<text transform="translate(176.51 221.09) rotate(-66.87)" y="0.8" text-anchor="end">ASV502</text>
<text transform="translate(174.11 218.92) rotate(-65.08)" y="0.8" text-anchor="end">ASV541</text>
<text transform="translate(170.33 219.64) rotate(-63.28)" y="0.8" text-anchor="end">ASV888</text>
<text transform="translate(167.58 218.14) rotate(-61.48)" y="0.8" text-anchor="end">ASV327</text>
<text transform="translate(165 216.34) rotate(-59.68)" y="0.8" text-anchor="end">ASV759</text>
<text transform="translate(162.66 214.22) rotate(-57.89)" y="0.8" text-anchor="end">ASV659</text>
<text transform="translate(163.54 207.35) rotate(-56.09)" y="0.8" text-anchor="end">ASV294</text>
<text transform="translate(161.15 205.69) rotate(-54.29)" y="0.8" text-anchor="end">ASV903</text>
<text transform="translate(157.72 205.4) rotate(-52.49)" y="0.8" text-anchor="end">ASV941</text>
<text transform="translate(156.5 202.21) rotate(-50.7)" y="0.8" text-anchor="end">ASV939</text>
<text transform="translate(153.95 200.71) rotate(-48.9)" y="0.8" text-anchor="end">ASV657</text>
<text transform="translate(151.31 199.26) rotate(-47.1)" y="0.8" text-anchor="end">ASV603</text>
<text transform="translate(150.07 196.33) rotate(-45.31)" y="0.8" text-anchor="end">ASV393</text>
<text transform="translate(141.29 200.65) rotate(-43.51)" y="0.8" text-anchor="end">ASV308</text>
<text transform="translate(146.01 192.17) rotate(-41.71)" y="0.8" text-anchor="end">ASV487</text>
<text transform="translate(136.81 196.08) rotate(-39.91)" y="0.8" text-anchor="end">ASV342</text>
<text transform="translate(133.56 194.55) rotate(-38.12)" y="0.8" text-anchor="end">ASV479</text>
<text transform="translate(139.8 185.93) rotate(-36.32)" y="0.8" text-anchor="end">ASV561</text>
<text transform="translate(137.68 183.82) rotate(-34.52)" y="0.8" text-anchor="end">ASV468</text>
<text transform="translate(130.14 185.16) rotate(-32.72)" y="0.8" text-anchor="end">ASV151</text>
<text transform="translate(127.53 183.03) rotate(-30.93)" y="0.8" text-anchor="end">ASV841</text>
<text transform="translate(126.17 180.11) rotate(-29.13)" y="0.8" text-anchor="end">ASV130</text>
<text transform="translate(130.51 174.27) rotate(-27.33)" y="0.8" text-anchor="end">ASV930</text>
<text transform="translate(128.29 172.02) rotate(-25.53)" y="0.8" text-anchor="end">ASV513</text>
<text transform="translate(127.12 169.23) rotate(-23.74)" y="0.8" text-anchor="end">ASV761</text>
<text transform="translate(125.79 166.51) rotate(-21.94)" y="0.8" text-anchor="end">ASV302</text>
<text transform="translate(125.22 163.5) rotate(-20.14)" y="0.8" text-anchor="end">ASV516</text>
<text transform="translate(124.5 160.58) rotate(-18.35)" y="0.8" text-anchor="end">ASV655</text>
<text transform="translate(121.86 158.23) rotate(-16.55)" y="0.8" text-anchor="end">ASV827</text>
<text transform="translate(122.82 154.82) rotate(-14.75)" y="0.8" text-anchor="end">ASV279</text>
<text transform="translate(121.44 152.07) rotate(-12.95)" y="0.8" text-anchor="end">ASV804</text>
<text transform="translate(122.21 148.84) rotate(-11.16)" y="0.8" text-anchor="end">ASV746</text>
<text transform="translate(117.45 146.61) rotate(-9.36)" y="0.8" text-anchor="end">ASV989</text>
<text transform="translate(119.68 143.18) rotate(-7.56)" y="0.8" text-anchor="end">ASV859</text>
<text transform="translate(119.14 140.2) rotate(-5.76)" y="0.8" text-anchor="end">ASV790</text>
<text transform="translate(120.53 137.06) rotate(-3.97)" y="0.8" text-anchor="end">ASV952</text>
<text transform="translate(118.65 134.16) rotate(-2.17)" y="0.8" text-anchor="end">ASV355</text>
<text transform="translate(116.72 131.14) rotate(-0.37)" y="0.8" text-anchor="end">ASV588</text>
<text transform="translate(114.8 128) rotate(1.43)" y="0.8" text-anchor="end">ASV103</text>
<text transform="translate(115.96 124.91) rotate(3.22)" y="0.8" text-anchor="end">ASV368</text>
<text transform="translate(118.15 121.97) rotate(5.02)" y="0.8" text-anchor="end">ASV366</text>
<text transform="translate(117.87 118.86) rotate(6.82)" y="0.8" text-anchor="end">ASV471</text>
<text transform="translate(117.5 115.7) rotate(8.61)" y="0.8" text-anchor="end">ASV177</text>
<text transform="translate(117.21 112.49) rotate(10.41)" y="0.8" text-anchor="end">ASV430</text>
<text transform="translate(116.03 109.04) rotate(12.21)" y="0.8" text-anchor="end">ASV701</text>
<text transform="translate(121.79 107.2) rotate(14.01)" y="0.8" text-anchor="end">ASV165</text>
<text transform="translate(117.34 102.8) rotate(15.8)" y="0.8" text-anchor="end">ASV830</text>
<text transform="translate(117.4 99.47) rotate(17.6)" y="0.8" text-anchor="end">ASV918</text>
</g>
<g fill="#000">
<rect x="114.7" y="66.45" width="2.8" height="2.8" transform="rotate(212.3 116.1 67.85)"/>
<rect x="119.64" y="56.33" width="2.8" height="2.8" transform="rotate(217.7 121.04 57.73)"/>
<rect x="121.98" y="53.41" width="2.8" height="2.8" transform="rotate(219.5 123.38 54.81)"/>
<rect x="126.91" y="47.79" width="2.8" height="2.8" transform="rotate(223.1 128.31 49.19)"/>
<rect x="132.19" y="42.5" width="2.8" height="2.8" transform="rotate(226.7 133.59 43.9)"/>
<rect x="137.79" y="37.54" width="2.8" height="2.8" transform="rotate(230.3 139.19 38.94)"/>
<rect x="140.7" y="35.2" width="2.8" height="2.8" transform="rotate(232.1 142.1 36.6)"/>
<rect x="145.09" y="34.88" width="2.8" height="2.8" transform="rotate(233.9 146.49 36.28)"/>
<rect x="150.99" y="30.51" width="2.8" height="2.8" transform="rotate(237.5 152.39 31.91)"/>
<rect x="153.05" y="26.78" width="2.8" height="2.8" transform="rotate(239.3 154.45 28.18)"/>
<rect x="156.7" y="25.66" width="2.8" height="2.8" transform="rotate(241.1 158.1 27.06)"/>
<rect x="166.35" y="19.97" width="2.8" height="2.8" transform="rotate(246.5 167.75 21.37)"/>
<rect x="173.29" y="17.21" width="2.8" height="2.8" transform="rotate(250.1 174.69 18.61)"/>
<rect x="182.88" y="34.49" width="2.8" height="2.8" transform="rotate(251.9 184.28 35.89)"/>
<rect x="191.57" y="30.37" width="2.8" height="2.8" transform="rotate(257.31 192.97 31.77)"/>
<rect x="201.77" y="34.99" width="2.8" height="2.8" transform="rotate(262.72 203.17 36.39)"/>
<rect x="204.39" y="31" width="2.8" height="2.8" transform="rotate(264.52 205.79 32.4)"/>
<rect x="207.46" y="30.46" width="2.8" height="2.8" transform="rotate(266.32 208.86 31.86)"/>
<rect x="210.64" y="32.67" width="2.8" height="2.8" transform="rotate(268.12 212.04 34.07)"/>
<rect x="227.4" y="20.5" width="2.8" height="2.8" transform="rotate(277.14 228.8 21.9)"/>
<rect x="228.55" y="35.32" width="2.8" height="2.8" transform="rotate(278.94 229.95 36.72)"/>
<rect x="234.22" y="37.35" width="2.8" height="2.8" transform="rotate(282.55 235.62 38.75)"/>
<rect x="244.08" y="24.53" width="2.8" height="2.8" transform="rotate(286.15 245.48 25.93)"/>
<rect x="247.12" y="26.27" width="2.8" height="2.8" transform="rotate(287.95 248.52 27.67)"/>
<rect x="250.38" y="27.24" width="2.8" height="2.8" transform="rotate(289.76 251.78 28.64)"/>
<rect x="255.98" y="31.45" width="2.8" height="2.8" transform="rotate(293.36 257.38 32.85)"/>
<rect x="261.77" y="34.82" width="2.8" height="2.8" transform="rotate(296.97 263.17 36.22)"/>
<rect x="264.84" y="36.15" width="2.8" height="2.8" transform="rotate(298.77 266.24 37.55)"/>
<rect x="268.31" y="36.83" width="2.8" height="2.8" transform="rotate(300.57 269.71 38.23)"/>
<rect x="270.99" y="38.9" width="2.8" height="2.8" transform="rotate(302.38 272.39 40.3)"/>
<rect x="280.46" y="43.11" width="2.8" height="2.8" transform="rotate(307.78 281.86 44.51)"/>
<rect x="283.16" y="45.22" width="2.8" height="2.8" transform="rotate(309.59 284.56 46.62)"/>
<rect x="289.33" y="48.64" width="2.8" height="2.8" transform="rotate(313.19 290.73 50.04)"/>
<rect x="292.04" y="50.84" width="2.8" height="2.8" transform="rotate(314.99 293.44 52.24)"/>
<rect x="286.63" y="64.89" width="2.8" height="2.8" transform="rotate(318.6 288.03 66.29)"/>
<rect x="296.44" y="72.95" width="2.8" height="2.8" transform="rotate(325.81 297.84 74.35)"/>
<rect x="304.64" y="71.48" width="2.8" height="2.8" transform="rotate(327.61 306.04 72.88)"/>
<rect x="301.26" y="77.41" width="2.8" height="2.8" transform="rotate(329.41 302.66 78.81)"/>
<rect x="302.58" y="80.33" width="2.8" height="2.8" transform="rotate(331.22 303.98 81.73)"/>
<rect x="309.77" y="83.98" width="2.8" height="2.8" transform="rotate(334.82 311.17 85.38)"/>
<rect x="310.44" y="87.33" width="2.8" height="2.8" transform="rotate(336.62 311.84 88.73)"/>
<rect x="311.39" y="90.51" width="2.8" height="2.8" transform="rotate(338.43 312.79 91.91)"/>
<rect x="314.41" y="92.94" width="2.8" height="2.8" transform="rotate(340.23 315.81 94.34)"/>
<rect x="313.43" y="96.79" width="2.8" height="2.8" transform="rotate(342.03 314.83 98.19)"/>
<rect x="317.41" y="106.02" width="2.8" height="2.8" transform="rotate(347.44 318.81 107.42)"/>
<rect x="315.26" y="109.82" width="2.8" height="2.8" transform="rotate(349.24 316.66 111.22)"/>
<rect x="315.47" y="119.58" width="2.8" height="2.8" transform="rotate(354.65 316.87 120.98)"/>
<rect x="318.8" y="122.59" width="2.8" height="2.8" transform="rotate(356.45 320.2 123.99)"/>
<rect x="321.39" y="125.83" width="2.8" height="2.8" transform="rotate(358.26 322.79 127.23)"/>
<rect x="309.34" y="132.21" width="2.8" height="2.8" transform="rotate(361.86 310.74 133.61)"/>
<rect x="310.31" y="138.34" width="2.8" height="2.8" transform="rotate(365.47 311.71 139.74)"/>
<rect x="310.34" y="141.42" width="2.8" height="2.8" transform="rotate(367.27 311.74 142.82)"/>
<rect x="316.11" y="145.44" width="2.8" height="2.8" transform="rotate(369.07 317.51 146.84)"/>
<rect x="306.75" y="153.1" width="2.8" height="2.8" transform="rotate(374.48 308.15 154.5)"/>
<rect x="304.77" y="155.67" width="2.8" height="2.8" transform="rotate(376.28 306.17 157.07)"/>
<rect x="302.81" y="158.17" width="2.8" height="2.8" transform="rotate(378.09 304.21 159.57)"/>
<rect x="304.29" y="165.09" width="2.8" height="2.8" transform="rotate(381.69 305.69 166.49)"/>
<rect x="302.93" y="167.84" width="2.8" height="2.8" transform="rotate(383.49 304.33 169.24)"/>
<rect x="299.63" y="173.02" width="2.8" height="2.8" transform="rotate(387.1 301.03 174.42)"/>
<rect x="314.99" y="184.95" width="2.8" height="2.8" transform="rotate(388.89 316.39 186.35)"/>
<rect x="249.7" y="227.68" width="2.8" height="2.8" transform="rotate(429.99 251.1 229.08)"/>
<rect x="249.29" y="236.97" width="2.8" height="2.8" transform="rotate(431.79 250.69 238.37)"/>
<rect x="246.39" y="239.74" width="2.8" height="2.8" transform="rotate(433.59 247.79 241.14)"/>
<rect x="243.83" y="244.25" width="2.8" height="2.8" transform="rotate(435.38 245.23 245.65)"/>
<rect x="236.32" y="244.7" width="2.8" height="2.8" transform="rotate(438.98 237.72 246.1)"/>
<rect x="232.36" y="243.37" width="2.8" height="2.8" transform="rotate(440.77 233.76 244.77)"/>
<rect x="229.18" y="247.1" width="2.8" height="2.8" transform="rotate(442.57 230.58 248.5)"/>
<rect x="225.48" y="247.53" width="2.8" height="2.8" transform="rotate(444.37 226.88 248.93)"/>
<rect x="210.82" y="238.78" width="2.8" height="2.8" transform="rotate(451.56 212.22 240.18)"/>
<rect x="207.19" y="241.75" width="2.8" height="2.8" transform="rotate(453.36 208.59 243.15)"/>
<rect x="200.51" y="238.14" width="2.8" height="2.8" transform="rotate(456.95 201.91 239.54)"/>
<rect x="182.62" y="238.3" width="2.8" height="2.8" transform="rotate(465.94 184.02 239.7)"/>
<rect x="174.37" y="230.08" width="2.8" height="2.8" transform="rotate(471.33 175.77 231.48)"/>
<rect x="168.33" y="226.96" width="2.8" height="2.8" transform="rotate(474.92 169.73 228.36)"/>
<rect x="164.25" y="227.53" width="2.8" height="2.8" transform="rotate(476.72 165.65 228.93)"/>
<rect x="161.21" y="225.88" width="2.8" height="2.8" transform="rotate(478.52 162.61 227.28)"/>
<rect x="158.36" y="223.92" width="2.8" height="2.8" transform="rotate(480.32 159.76 225.32)"/>
<rect x="155.73" y="221.63" width="2.8" height="2.8" transform="rotate(482.11 157.13 223.03)"/>
<rect x="132.35" y="206.41" width="2.8" height="2.8" transform="rotate(496.49 133.75 207.81)"/>
<rect x="127.43" y="201.35" width="2.8" height="2.8" transform="rotate(500.09 128.83 202.75)"/>
<rect x="123.97" y="199.57" width="2.8" height="2.8" transform="rotate(501.88 125.37 200.97)"/>
<rect x="119.99" y="189.38" width="2.8" height="2.8" transform="rotate(507.28 121.39 190.78)"/>
<rect x="117.2" y="186.97" width="2.8" height="2.8" transform="rotate(509.07 118.6 188.37)"/>
<rect x="115.69" y="183.77" width="2.8" height="2.8" transform="rotate(510.87 117.09 185.17)"/>
<rect x="105.79" y="146.9" width="2.8" height="2.8" transform="rotate(530.64 107.19 148.3)"/>
<rect x="107.97" y="143.15" width="2.8" height="2.8" transform="rotate(532.44 109.37 144.55)"/>
<rect x="110.3" y="103.28" width="2.8" height="2.8" transform="rotate(554.01 111.7 104.68)"/>
</g>
</g>
<text x="5.4" y="8.6" font-size="6.64" style="fill:#333">Tree scale: 0.1</text>
<path d="M53.2 6.2H80M53.2 5V7.4M80 5V7.4M66.6 5.6V6.8" stroke="#444" stroke-width="0.5" fill="none"/>
<rect x="9.2" y="32" width="67.4" height="88" fill="#fff" stroke="#e4e4e4" stroke-width="0.5"/>
<text x="12.5" y="41" font-size="7" font-weight="bold">Colored ranges</text>
<path d="M12.5 44.2H74" stroke="#999" stroke-width="0.4"/>
<rect x="12.6" y="47.7" width="9.3" height="9" fill="#EFE690" stroke="#555" stroke-opacity="0.5" stroke-width="0.4"/><text x="26.5" y="54.5" font-size="6.95">Bacteroidetes</text>
<rect x="12.6" y="61.6" width="9.3" height="9" fill="#E94ED6" stroke="#555" stroke-opacity="0.5" stroke-width="0.4"/><text x="26.5" y="68.4" font-size="6.95">Proteobacteria</text>
<rect x="12.6" y="75.5" width="9.3" height="9" fill="#11A43E" stroke="#555" stroke-opacity="0.5" stroke-width="0.4"/><text x="26.5" y="82.3" font-size="6.95">Firmicutes</text>
<rect x="12.6" y="89.4" width="9.3" height="9" fill="#EF3D0C" stroke="#555" stroke-opacity="0.5" stroke-width="0.4"/><text x="26.5" y="96.2" font-size="6.95">Actinobacteria</text>
<rect x="12.6" y="103.3" width="9.3" height="9" fill="#1FA5C3" stroke="#555" stroke-opacity="0.5" stroke-width="0.4"/><text x="26.5" y="110.1" font-size="6.95">Patescibacteria</text>
<text class="ser" x="179.3" y="275.7" font-size="8.4" text-anchor="middle">(A)</text>
<g id="treeB">
<path d="M118.29 347.39A124.5 124.5 0 0 1 121.09 342.49L209.72 395.95A21 21 0 0 0 209.24 396.78Z" fill="#D8A8EA"/>
<path d="M121.09 342.49A124.5 124.5 0 0 1 127.62 332.74L213.23 396.09A18 18 0 0 0 212.29 397.5Z" fill="#7A7A7A"/>
<path d="M127.62 332.74A124.5 124.5 0 0 1 193.38 287.12L217.23 370.27A38 38 0 0 0 197.15 384.2Z" fill="#FF82F4"/>
<path d="M193.38 287.12A124.5 124.5 0 0 1 294.96 302.03L244.45 380.71A31 31 0 0 0 219.16 377Z" fill="#FF00DC"/>
<path d="M294.96 302.03A124.5 124.5 0 0 1 300.17 305.57L246.33 380.78A32 32 0 0 0 244.99 379.87Z" fill="#D9D9FF"/>
<path d="M300.17 305.57A124.5 124.5 0 0 1 313.4 316.49L251.1 382.14A34 34 0 0 0 247.49 379.15Z" fill="#B5A5A0"/>
<path d="M313.4 316.49A124.5 124.5 0 0 1 343.38 360.77L262.08 393.12A37 37 0 0 0 253.17 379.96Z" fill="#55AD55"/>
<path d="M343.38 360.77A124.5 124.5 0 0 1 348.61 377.1L266.55 397.26A40 40 0 0 0 264.87 392.01Z" fill="#008000"/>
<path d="M348.61 377.1A124.5 124.5 0 0 1 348.68 436.18L266.57 416.24A40 40 0 0 0 266.55 397.26Z" fill="#2424FF"/>
<path d="M348.68 436.18A124.5 124.5 0 0 1 347.26 441.53L275.71 420.75A50 50 0 0 0 276.29 418.6Z" fill="#7A7A7A"/>
<path d="M347.26 441.53A124.5 124.5 0 0 1 345.77 446.3L269.9 420.92A44.5 44.5 0 0 0 270.43 419.22Z" fill="#4B0082"/>
<path d="M345.77 446.3A124.5 124.5 0 0 1 335.74 468.67L273.26 432.89A52.5 52.5 0 0 0 277.49 423.46Z" fill="#9400E0"/>
<path d="M335.74 468.67A124.5 124.5 0 0 1 323.35 486.49L268.03 440.41A52.5 52.5 0 0 0 273.26 432.89Z" fill="#FF0000"/>
<path d="M323.35 486.49A124.5 124.5 0 0 1 306.72 503.01L262.93 449.69A55.5 55.5 0 0 0 270.34 442.33Z" fill="#FF6060"/>
<path d="M306.72 503.01A124.5 124.5 0 0 1 302.1 506.62L262.06 452.9A57.5 57.5 0 0 0 264.2 451.23Z" fill="#FF8000"/>
<path d="M302.1 506.62A124.5 124.5 0 0 1 291.82 513.52L257.83 456.94A58.5 58.5 0 0 0 262.66 453.7Z" fill="#C8C820"/>
<path d="M291.82 513.52A124.5 124.5 0 0 1 275.14 521.91L251.52 464.58A62.5 62.5 0 0 0 259.89 460.37Z" fill="#FFB060"/>
<path d="M275.14 521.91A124.5 124.5 0 0 1 247.82 529.66L236.43 460.09A54 54 0 0 0 248.28 456.73Z" fill="#A3A346"/>
<path d="M247.82 529.66A124.5 124.5 0 0 1 109.36 368.12L182.74 392.11A47.3 47.3 0 0 0 235.34 453.48Z" fill="#FFFF80"/>
<path d="M209.48 396.36L206.01 394.38M212.51 397.14A18 18 0 0 1 212.98 396.44M212.51 397.14L208.62 394.67M212.98 396.44L209.33 393.87M189.37 374.35A50.22 50.22 0 0 1 190.82 372.71M189.37 374.35L187.08 372.42M190.82 372.71L188.8 370.84M190.65 378.12A46.85 46.85 0 0 1 192.61 375.75M190.65 378.12L188.58 376.51M192.61 375.75L190.09 373.52M192.96 368.55A51.67 51.67 0 0 1 194.66 367.07M192.96 368.55L190.48 365.82M194.66 367.07L193.11 365.22M193.86 372.67A48.06 48.06 0 0 1 196.17 370.53M193.86 372.67L189.78 368.55M196.17 370.53L193.8 367.8M193.59 378.55A44.29 44.29 0 0 1 197.57 374.34M193.59 378.55L191.61 376.92M197.57 374.34L195 371.58M197.23 366.72A50.35 50.35 0 0 1 199 365.43M197.23 366.72L195.59 364.57M199 365.43L196.22 361.42M200.15 368.88A46.87 46.87 0 0 1 202.69 367.16M200.15 368.88L198.11 366.07M202.69 367.16L201.48 365.24M203.04 363.66A49.69 49.69 0 0 1 204.95 362.63M203.04 363.66L201.52 360.99M204.95 362.63L203.22 359.26M204.88 364.77A47.82 47.82 0 0 1 207.68 363.37M204.88 364.77L203.99 363.13M207.68 363.37L206.74 361.34M208.58 360.06A50.5 50.5 0 0 1 210.64 359.27M208.58 360.06L206.95 356.09M210.64 359.27L209.78 356.89M207.39 366.3A45.31 45.31 0 0 1 211.46 364.5M207.39 366.3L206.27 364.05M211.46 364.5L209.6 359.66M203.49 371.08A43.15 43.15 0 0 1 210.28 367.32M203.49 371.08L201.41 368M210.28 367.32L209.41 365.35M197.78 378.53A41.17 41.17 0 0 1 207.76 370.78M197.78 378.53L195.51 376.38M207.76 370.78L206.8 369.05M204.41 376.77A38 38 0 0 1 216.43 370.51M204.41 376.77L202.47 374.27M216.43 370.51L215.41 367.22M217.3 367.2A40.94 40.94 0 0 1 219.08 366.77M217.3 367.2L216 362.25M219.08 366.77L217.99 361.7M219.44 357.9A49.59 49.59 0 0 1 221.63 357.58M219.44 357.9L218.75 353.82M221.63 357.58L221.37 355.45M223.88 357.94A49.01 49.01 0 0 1 226.07 357.81M223.88 357.94L223.48 352.74M226.07 357.81L225.99 355.18M228.25 359.02A47.78 47.78 0 0 1 230.39 359.09M228.25 359.02L228.27 357.26M230.39 359.09L230.59 355.46M225.15 360.92A45.95 45.95 0 0 1 229.26 360.87M225.15 360.92L224.98 357.86M229.26 360.87L229.32 359.04M221.2 362.32A44.95 44.95 0 0 1 227.21 361.85M221.2 362.32L220.53 357.73M227.21 361.85L227.2 360.85M234.47 360.66A46.63 46.63 0 0 1 236.53 361.01M234.47 360.66L234.84 358.19M236.53 361.01L237.4 356.48M232.25 361.88A45.15 45.15 0 0 1 235.25 362.28M232.25 361.88L232.53 359.11M235.25 362.28L235.5 360.83M224.37 364.15A42.78 42.78 0 0 1 233.44 364.41M224.37 364.15L224.2 361.98M233.44 364.41L233.76 362.06M228.83 366.94A39.88 39.88 0 0 1 236.99 368.02M228.83 366.94L228.91 364.04M236.99 368.02L237.93 364.12M219.84 373.92A33.81 33.81 0 0 1 232.14 373.29M219.84 373.92L218.19 366.98M232.14 373.29L232.94 367.27M242.49 362.84A46.38 46.38 0 0 1 244.45 363.55M242.49 362.84L243.25 360.62M244.45 363.55L245.62 360.53M239.54 365.61A42.85 42.85 0 0 1 242.28 366.5M239.54 365.61L240.23 363.22M242.28 366.5L243.47 363.19M245.9 365.4A45.22 45.22 0 0 1 247.73 366.26M245.9 365.4L247.52 361.72M247.73 366.26L248.68 364.33M249.57 367.11A45.31 45.31 0 0 1 251.32 368.13M249.57 367.11L251.06 364.4M251.32 368.13L254.28 363.28M245.56 368.52A42.24 42.24 0 0 1 248.91 370.27M245.56 368.52L246.82 365.82M248.91 370.27L250.45 367.61M239.28 371.08A37.55 37.55 0 0 1 245.08 373.52M239.28 371.08L240.92 366.04M245.08 373.52L247.25 369.36M226.11 375.84A31 31 0 0 1 239.7 378.22M226.11 375.84L225.96 373.04M239.7 378.22L242.23 372.18M245.66 380.32L247.91 377.01M252.17 377.16A38.44 38.44 0 0 1 253.51 378.32M252.17 377.16L254.73 374.06M253.51 378.32L255.67 375.93M248.12 379.62A34 34 0 0 1 249.95 381.09M248.12 379.62L250.94 375.87M249.95 381.09L252.85 377.73M258.49 375.88A43.63 43.63 0 0 1 259.94 377.4M258.49 375.88L260.58 373.78M259.94 377.4L262.06 375.46M256.5 379.24A39.86 39.86 0 0 1 258.41 381.39M256.5 379.24L259.22 376.63M258.41 381.39L260.62 379.56M262.23 380.92A43.15 43.15 0 0 1 263.43 382.61M262.23 380.92L264.94 378.88M263.43 382.61L265.69 381.08M264.73 384.25A43.36 43.36 0 0 1 265.77 386.05M264.73 384.25L266.77 383M265.77 386.05L268.69 384.46M266.57 387.98A43.18 43.18 0 0 1 267.43 389.87M266.57 387.98L269.39 386.62M267.43 389.87L270.87 388.41M263.79 385.99A41.66 41.66 0 0 1 265.62 389.55M263.79 385.99L265.26 385.14M265.62 389.55L267.01 388.92M260 383.78A39.66 39.66 0 0 1 262.97 388.66M260 383.78L262.84 381.76M262.97 388.66L264.75 387.75M255.34 382.2A37 37 0 0 1 259.3 387.55M255.34 382.2L257.47 380.3M259.3 387.55L261.57 386.17M268.18 393.84A42.5 42.5 0 0 1 268.73 395.72M268.18 393.84L270.52 393.09M268.73 395.72L271.33 395.01M265.2 392.87A40 40 0 0 1 266.07 395.48M265.2 392.87L270.46 390.91M266.07 395.48L268.47 394.78M275.8 398.59A48.8 48.8 0 0 1 276.14 400.91M275.8 398.59L277.38 398.32M276.14 400.91L278.23 400.65M273.73 396.66A47.13 47.13 0 0 1 274.33 399.99M273.73 396.66L278.34 395.64M274.33 399.99L275.99 399.75M275.74 403.28A48.17 48.17 0 0 1 275.85 405.58M275.74 403.28L277.64 403.14M275.85 405.58L278.22 405.52M274.42 404.5A46.78 46.78 0 0 1 274.47 407.86M274.42 404.5L275.81 404.43M274.47 407.86L277.97 407.94M272.73 398.56A45.78 45.78 0 0 1 273.47 406.19M272.73 398.56L274.06 398.32M273.47 406.19L274.47 406.18M271.28 402.55A43.79 43.79 0 0 1 271.38 409.89M271.28 402.55L273.26 402.36M271.38 409.89L273.77 410.06M273.86 412.29A46.49 46.49 0 0 1 273.55 414.5M273.86 412.29L278.1 412.8M273.55 414.5L276.64 415.02M269.25 412.76A41.98 41.98 0 0 1 268.72 415.73M269.25 412.76L273.72 413.4M268.72 415.73L273.17 416.69M267.7 406.27A40 40 0 0 1 267.07 413.9M267.7 406.27L271.48 406.22M267.07 413.9L269.01 414.25M276.01 419.68L279.88 420.71M270.18 420.07L273.99 421.26M280.36 425.88A56.01 56.01 0 0 1 279.36 428.45M280.36 425.88L283.45 426.99M279.36 428.45L282.69 429.84M277.9 430.81A55.65 55.65 0 0 1 276.66 433.26M277.9 430.81L280.61 432.11M276.66 433.26L279.26 434.66M276.61 425.89A52.5 52.5 0 0 1 274.49 430.61M276.61 425.89L279.88 427.17M274.49 430.61L277.29 432.04M274.15 437.6A55.73 55.73 0 0 1 272.76 439.6M274.15 437.6L276.79 439.36M272.76 439.6L275.71 441.75M273.69 434.49A53.68 53.68 0 0 1 271.78 437.44M273.69 434.49L277.05 436.51M271.78 437.44L273.46 438.61M271.77 435.34A52.5 52.5 0 0 1 268.76 439.52M271.77 435.34L272.76 435.98M268.76 439.52L271.18 441.45M271.68 445.24A58.41 58.41 0 0 1 269.83 447.27M271.68 445.24L274.68 447.86M269.83 447.27L271.65 449.02M268.18 449.53A58.85 58.85 0 0 1 266.12 451.39M268.18 449.53L270.14 451.6M266.12 451.39L268.15 453.75M268.62 444.3A55.5 55.5 0 0 1 264.91 447.98M268.62 444.3L270.77 446.26M264.91 447.98L267.16 450.47M263.14 452.08L265.61 455.23M261.48 454.56A58.5 58.5 0 0 1 259.07 456.18M261.48 454.56L263.71 457.7M259.07 456.18L260.84 458.96M256.72 464.5A64.59 64.59 0 0 1 253.8 465.88M256.72 464.5L258.27 467.59M253.8 465.88L254.91 468.39M258.54 461.16A62.5 62.5 0 0 1 254.38 463.32M258.54 461.16L260.98 465.47M254.38 463.32L255.27 465.21M248.74 461.36A58.47 58.47 0 0 1 246.22 462.26M248.74 461.36L249.52 463.37M246.22 462.26L246.94 464.4M246.85 460.06A56.6 56.6 0 0 1 243.16 461.25M246.85 460.06L247.49 461.82M243.16 461.25L243.79 463.48M240.89 462.89A57.62 57.62 0 0 1 238.31 463.43M240.89 462.89L241.42 465.17M238.31 463.43L238.94 466.79M244.22 458.21A54 54 0 0 1 238.85 459.64M244.22 458.21L245.02 460.68M238.85 459.64L239.6 463.18M233.02 463.26A56.71 56.71 0 0 1 230.45 463.44M233.02 463.26L233.12 464.24M230.45 463.44L230.52 464.86M235.38 461.49A55.23 55.23 0 0 1 231.63 461.89M235.38 461.49L235.48 462.19M231.63 461.89L231.74 463.37M227.87 464.43A57.63 57.63 0 0 1 225.25 464.38M227.87 464.43L227.87 465.18M225.25 464.38L225.18 465.86M222.68 463.62A57.04 57.04 0 0 1 220.1 463.33M222.68 463.62L222.62 464.31M220.1 463.33L219.99 464.13M226.6 462.24A55.45 55.45 0 0 1 221.56 461.91M226.6 462.24L226.56 464.42M221.56 461.91L221.39 463.49M233.38 460.53A54.03 54.03 0 0 1 224.17 460.71M233.38 460.53L233.51 461.72M224.17 460.71L224.08 462.13M215.37 460.75A55.34 55.34 0 0 1 212.92 460.13M215.37 460.75L215.1 461.93M212.92 460.13L212.72 460.86M218.07 459.95A54.01 54.01 0 0 1 214.47 459.16M218.07 459.95L217.93 460.77M214.47 459.16L214.14 460.46M228.76 459.59A52.8 52.8 0 0 1 216.52 458.41M228.76 459.59L228.78 460.82M216.52 458.41L216.26 459.59M210.23 460.27A56.25 56.25 0 0 1 207.82 459.42M210.23 460.27L209.8 461.6M207.82 459.42L207.39 460.55M209.66 458.03A54.31 54.31 0 0 1 206.21 456.68M209.66 458.03L209.02 459.86M206.21 456.68L205.64 458M203 457.62A56.51 56.51 0 0 1 200.71 456.45M203 457.62L202.57 458.5M200.71 456.45L200.27 457.25M198.55 455.05A56.37 56.37 0 0 1 196.39 453.67M198.55 455.05L197.84 456.22M196.39 453.67L195.96 454.31M202.64 455.51A54.78 54.78 0 0 1 198.31 453.03M202.64 455.51L201.85 457.05M198.31 453.03L197.46 454.37M208.34 456.3A53.15 53.15 0 0 1 201.26 452.91M208.34 456.3L207.92 457.38M201.26 452.91L200.45 454.32M222.71 458.24A51.69 51.69 0 0 1 205.37 453.41M222.71 458.24L222.6 459.36M205.37 453.41L204.74 454.74M192.11 450.81A56.6 56.6 0 0 1 190.14 449.14M192.11 450.81L191.36 451.73M190.14 449.14L189.57 449.79M194.74 451.58A55.6 55.6 0 0 1 191.76 449.22M194.74 451.58L194.36 452.1M191.76 449.22L191.12 449.98M188.1 447.55A56.82 56.82 0 0 1 186.28 445.7M188.1 447.55L187.43 448.23M186.28 445.7L185.63 446.32M184.45 443.87A56.96 56.96 0 0 1 182.81 441.86M184.45 443.87L183.58 444.61M182.81 441.86L182.64 441.99M183.78 442.74A56.76 56.76 0 0 1 181.43 439.66M183.78 442.74L183.62 442.88M181.43 439.66L180.89 440.04M182.91 440.97A56.34 56.34 0 0 1 180.33 437.3M182.91 440.97L182.58 441.22M180.33 437.3L179.56 437.79M188.12 445.72A55.51 55.51 0 0 1 182.26 438.68M188.12 445.72L187.18 446.64M182.26 438.68L181.58 439.16M193.91 449.57A54.51 54.51 0 0 1 185.81 441.68M193.91 449.57L193.23 450.42M185.81 441.68L185.04 442.32M177.63 432.93A56.48 56.48 0 0 1 176.49 430.62M177.63 432.93L176.49 433.52M176.49 430.62L175.61 431.03M179.71 434.69A55.51 55.51 0 0 1 177.92 431.35M179.71 434.69L179.06 435.07M177.92 431.35L177.05 431.78M175.2 428.37A56.75 56.75 0 0 1 174.28 425.96M175.2 428.37L173.91 428.9M174.28 425.96L172.95 426.44M171.42 421.37A58.14 58.14 0 0 1 170.81 418.79M171.42 421.37L170.27 421.67M170.81 418.79L169.59 419.05M173.74 423.42A56.46 56.46 0 0 1 172.73 419.7M173.74 423.42L172.83 423.7M172.73 419.7L171.1 420.08M175.89 426.72A55.51 55.51 0 0 1 174.12 421.32M175.89 426.72L174.73 427.17M174.12 421.32L173.2 421.57M179.66 432.57A54.51 54.51 0 0 1 175.89 423.73M179.66 432.57L178.78 433.04M175.89 423.73L174.94 424.04M190.35 445.12A53.51 53.51 0 0 1 178.5 427.84M190.35 445.12L189.65 445.84M178.5 427.84L177.58 428.23M170.69 413.48A57.4 57.4 0 0 1 170.44 410.88M170.69 413.48L169.87 413.58M170.44 410.88L169.15 410.97M172.92 415.76A55.51 55.51 0 0 1 172.43 412M172.92 415.76L171.82 415.94M172.43 412L170.55 412.18M171.21 408.25A56.51 56.51 0 0 1 171.2 405.67M171.21 408.25L169.84 408.28M171.2 405.67L170.05 405.65M171.36 403.11A56.46 56.46 0 0 1 171.59 400.55M171.36 403.11L170.42 403.04M171.59 400.55L170.55 400.43M172.19 406.96A55.51 55.51 0 0 1 172.41 401.91M172.19 406.96L171.19 406.96M172.41 401.91L171.46 401.82M173.64 413.76A54.51 54.51 0 0 1 173.24 404.47M173.64 413.76L172.64 413.89M173.24 404.47L172.24 404.43M171.39 397.91A57.01 57.01 0 0 1 171.85 395.36M171.39 397.91L170.33 397.75M171.85 395.36L171.2 395.22M172.69 396.83A55.9 55.9 0 0 1 173.5 393.1M172.69 396.83L171.6 396.63M173.5 393.1L172.39 392.82M174.17 395.2A54.78 54.78 0 0 1 175.26 390.97M174.17 395.2L173.07 394.96M175.26 390.97L174.38 390.71M174.24 409.08A53.51 53.51 0 0 1 175.9 393.39M174.24 409.08L173.24 409.13M175.9 393.39L174.67 393.07M184.4 436.5A52.51 52.51 0 0 1 175.48 401.28M184.4 436.5L183.57 437.07M175.48 401.28L174.49 401.18M214.15 455.45A50.5 50.5 0 0 1 178.74 419.19M214.15 455.45L213.83 456.59M178.74 419.19L176.8 419.69M236.53 453.98A48 48 0 0 1 201.56 447.06M201.56 447.06L200.2 449.15M200.2 449.15A50.5 50.5 0 0 1 191.57 442.08M236.53 453.98L237.63 459.88M241.56 458.99A54 54 0 0 1 237.63 459.88M213.99 397.62A16.5 16.5 0 0 1 220.08 392.17M213.99 397.62L212.74 396.79M220.08 392.17L210.14 373.1M217.34 395.24A15.52 15.52 0 0 1 230.37 391.51M217.34 395.24L216.69 394.51M230.37 391.51L233.04 376.26M215.55 399.84A14 14 0 0 1 223.85 393.34M215.55 399.84L209.48 396.36M223.85 393.34L223.43 391.88M238.92 390.26A19.98 19.98 0 0 1 240.25 391.25M238.92 390.26L245.66 380.32M240.25 391.25L249.05 380.34M249.88 390.38A27.6 27.6 0 0 1 253.88 398.09M249.88 390.38L257.44 384.79M253.88 398.09L265.65 394.17M248.48 396A23.42 23.42 0 0 1 251.04 408.73M248.48 396L252.19 394.07M251.04 408.73L267.56 410.1M236.63 394.75A15 15 0 0 1 242.41 403.84M236.63 394.75L239.59 390.74M242.41 403.84L250.66 402.19M268.52 425.1A44.73 44.73 0 0 1 264.01 432.93M268.52 425.1L275.61 428.28M264.01 432.93L270.31 437.46M262.13 441.47A48.87 48.87 0 0 1 257.82 445.28M262.13 441.47L266.81 446.18M257.82 445.28L263.14 452.08M257.23 440.26A44.62 44.62 0 0 1 252.56 443.86M257.23 440.26L260.03 443.44M252.56 443.86L260.29 455.38M263.16 427.23A40.92 40.92 0 0 1 252.69 439.21M263.16 427.23L266.46 429.13M252.69 439.21L254.95 442.14M257.16 416A30.87 30.87 0 0 1 250.94 427.11M257.16 416L270.18 420.07M250.94 427.11L258.51 433.73M241.69 433.78A30.39 30.39 0 0 1 221.9 436.64M241.69 433.78L256.48 462.28M221.9 436.64L218.54 453.92M247.7 418A22.92 22.92 0 0 1 230.97 429.49M247.7 418L254.63 421.88M230.97 429.49L232.04 436.88M237.36 409.38A10 10 0 0 1 233.36 415.04M237.36 409.38L276.01 419.68M233.36 415.04L240.68 425.7M227.7 406.8L219.06 395.78M227.7 406.8L240.36 398.76M227.7 406.8L235.87 412.57" fill="none" stroke="#000" stroke-width="0.5"/>
<g font-size="4.35">
<text transform="translate(181.75 380.48) rotate(29.8)" y="1.52" text-anchor="end">1215-HDG3-D-9</text>
<text transform="translate(183.96 378.99) rotate(32.45)" y="1.52" text-anchor="end">1216-TTF7-D-3</text>
<text transform="translate(185.13 376.82) rotate(35.15)" y="1.52" text-anchor="end">1216-TTF7-A-7</text>
<text transform="translate(177.1 367.62) rotate(37.75)" y="1.52" text-anchor="end">1216-TTF7-A-1</text>
<text transform="translate(178.85 365.45) rotate(40.25)" y="1.52" text-anchor="end">1215-HDG3-D-6</text>
<text transform="translate(180.7 363.36) rotate(42.75)" y="1.52" text-anchor="end">1215-HDG2-C-8</text>
<text transform="translate(182.64 361.35) rotate(45.25)" y="1.52" text-anchor="end">0217-TTF7-D-9</text>
<text transform="translate(184.67 359.43) rotate(47.75)" y="1.52" text-anchor="end">0217-TTF7-C-4</text>
<text transform="translate(186.78 357.59) rotate(50.25)" y="1.52" text-anchor="end">1215-HDG3-D-2</text>
<text transform="translate(188.96 355.86) rotate(52.75)" y="1.52" text-anchor="end">1216-HDG3-B-4</text>
<text transform="translate(179.54 337.37) rotate(55.25)" y="1.52" text-anchor="end">1015-HDG3-D-2</text>
<text transform="translate(183.56 336.85) rotate(57.75)" y="1.52" text-anchor="end">0217-TTF7-C-2</text>
<text transform="translate(187.54 336.54) rotate(60.25)" y="1.52" text-anchor="end">1015-HDG3-B-4</text>
<text transform="translate(191.46 336.44) rotate(62.75)" y="1.52" text-anchor="end">1015-HDG3-B-9</text>
<text transform="translate(195.31 336.55) rotate(65.25)" y="1.52" text-anchor="end">0217-HDG2-D-7</text>
<text transform="translate(199.08 336.86) rotate(67.75)" y="1.52" text-anchor="end">0217-HDG3-C-5</text>
<text transform="translate(202.77 337.35) rotate(70.25)" y="1.52" text-anchor="end">0217-HDG3-A-1</text>
<text transform="translate(206.35 338.04) rotate(72.75)" y="1.52" text-anchor="end">1016-HDG3-C-5</text>
<text transform="translate(210.04 339.58) rotate(75.28)" y="1.52" text-anchor="end">1016-TTF7-B-1</text>
<text transform="translate(213.07 338.86) rotate(77.84)" y="1.52" text-anchor="end">1016-TTF7-A-1</text>
<text transform="translate(216.12 338.27) rotate(80.41)" y="1.52" text-anchor="end">1216-TTF7-C-3</text>
<text transform="translate(219.2 337.82) rotate(82.97)" y="1.52" text-anchor="end">1215-TTF7-A-3</text>
<text transform="translate(222.14 335.57) rotate(85.53)" y="1.52" text-anchor="end">1016-HDG3-D-2</text>
<text transform="translate(225.39 337.34) rotate(88.1)" y="1.52" text-anchor="end">1216-HDG3-D-1</text>
<text transform="translate(228.5 337.3) rotate(270.66)" y="1.52">1215-HDG3-A-2</text>
<text transform="translate(231.61 337.41) rotate(273.22)" y="1.52">1016-HDG3-C-7</text>
<text transform="translate(234.2 342.63) rotate(275.79)" y="1.52">1015-HDG3-D-9</text>
<text transform="translate(237.07 342.98) rotate(278.35)" y="1.52">1216-TTF7-A-8</text>
<text transform="translate(239.91 343.47) rotate(280.91)" y="1.52">1216-HDG3-D-5</text>
<text transform="translate(243.85 339.41) rotate(283.48)" y="1.52">0217-TTF7-B-9</text>
<text transform="translate(245.52 344.81) rotate(286.04)" y="1.52">0217-HDG3-D-4</text>
<text transform="translate(248.28 345.67) rotate(288.6)" y="1.52">0217-HDG3-B-4</text>
<text transform="translate(250.99 346.65) rotate(291.17)" y="1.52">1016-HDG2-B-3</text>
<text transform="translate(255.16 344.33) rotate(293.73)" y="1.52">1216-HDG3-A-5</text>
<text transform="translate(256.27 348.97) rotate(296.29)" y="1.52">1015-TTF7-B-7</text>
<text transform="translate(258.83 350.31) rotate(298.86)" y="1.52">0217-TTF7-D-6</text>
<text transform="translate(261.32 351.76) rotate(301.42)" y="1.52">1216-TTF7-A-5</text>
<text transform="translate(260.66 358.21) rotate(304.15)" y="1.52">1216-HDG3-D-1</text>
<text transform="translate(263.04 359.76) rotate(306.92)" y="1.52">1216-HDG2-D-3</text>
<text transform="translate(265.52 361) rotate(309.55)" y="1.52">1215-HDG3-D-2</text>
<text transform="translate(267.28 363.13) rotate(312.18)" y="1.52">1215-TTF7-B-9</text>
<text transform="translate(270.7 363.62) rotate(314.88)" y="1.52">1215-TTF7-C-8</text>
<text transform="translate(271.14 367.18) rotate(317.63)" y="1.52">1215-HDG3-D-1</text>
<text transform="translate(272.8 369.47) rotate(320.39)" y="1.52">1015-TTF7-A-8</text>
<text transform="translate(275.04 371.32) rotate(323.14)" y="1.52">1215-HDG3-D-7</text>
<text transform="translate(277.76 372.9) rotate(325.9)" y="1.52">0217-TTF7-D-8</text>
<text transform="translate(279.53 375.23) rotate(328.66)" y="1.52">1015-TTF7-A-5</text>
<text transform="translate(277.82 379.49) rotate(331.41)" y="1.52">1216-HDG3-B-3</text>
<text transform="translate(282.25 380.39) rotate(334.17)" y="1.52">1016-TTF7-B-8</text>
<text transform="translate(283.24 383.13) rotate(336.92)" y="1.52">1216-TTF7-C-4</text>
<text transform="translate(288.15 384.34) rotate(339.62)" y="1.52">1215-HDG2-B-7</text>
<text transform="translate(289.27 387.09) rotate(342.25)" y="1.52">1216-HDG2-C-6</text>
<text transform="translate(291.81 389.48) rotate(344.88)" y="1.52">1216-TTF7-B-2</text>
<text transform="translate(294.12 392.16) rotate(347.57)" y="1.52">1016-HDG3-A-3</text>
<text transform="translate(295.19 395.29) rotate(350.32)" y="1.52">1216-HDG3-C-7</text>
<text transform="translate(294.5 398.67) rotate(353.06)" y="1.52">1015-HDG2-C-1</text>
<text transform="translate(295.56 401.83) rotate(355.81)" y="1.52">0217-HDG2-D-8</text>
<text transform="translate(298.28 405.02) rotate(358.55)" y="1.52">0217-TTF7-B-2</text>
<text transform="translate(296.08 408.35) rotate(1.3)" y="1.52">1216-HDG3-B-9</text>
<text transform="translate(297.09 411.7) rotate(4.04)" y="1.52">1216-TTF7-C-2</text>
<text transform="translate(295.44 414.86) rotate(6.79)" y="1.52">1216-HDG3-B-6</text>
<text transform="translate(295.16 418.13) rotate(9.53)" y="1.52">1216-HDG3-B-7</text>
<text transform="translate(296.4 421.75) rotate(12.28)" y="1.52">1216-TTF7-C-8</text>
<text transform="translate(295.77 424.94) rotate(14.92)" y="1.52">1216-TTF7-A-7</text>
<text transform="translate(295.57 428) rotate(17.35)" y="1.52">1015-HDG2-D-9</text>
<text transform="translate(299.02 432.64) rotate(19.91)" y="1.52">1015-HDG3-C-9</text>
<text transform="translate(297.9 436.22) rotate(22.74)" y="1.52">1215-TTF7-D-5</text>
<text transform="translate(298.1 440.48) rotate(25.56)" y="1.52">0217-TTF7-A-1</text>
<text transform="translate(294.66 442.99) rotate(28.39)" y="1.52">0217-HDG2-D-7</text>
<text transform="translate(291.56 445.25) rotate(31.05)" y="1.52">1216-HDG3-B-4</text>
<text transform="translate(289.67 447.89) rotate(33.55)" y="1.52">1215-HDG3-D-2</text>
<text transform="translate(288.61 451.13) rotate(36.05)" y="1.52">1215-HDG2-A-6</text>
<text transform="translate(286.49 453.64) rotate(38.55)" y="1.52">1015-TTF7-C-7</text>
<text transform="translate(288.1 459.58) rotate(41.15)" y="1.52">0217-TTF7-B-5</text>
<text transform="translate(285.32 462.15) rotate(43.85)" y="1.52">0217-TTF7-B-1</text>
<text transform="translate(281.4 463.49) rotate(46.55)" y="1.52">1016-HDG3-A-1</text>
<text transform="translate(278.71 465.99) rotate(49.25)" y="1.52">1216-HDG3-B-9</text>
<text transform="translate(277.22 470.06) rotate(51.95)" y="1.52">1216-HDG2-D-7</text>
<text transform="translate(275.66 474.6) rotate(54.73)" y="1.52">0217-TTF7-B-6</text>
<text transform="translate(271.54 475.81) rotate(57.57)" y="1.52">1216-HDG2-D-6</text>
<text transform="translate(269.77 480.96) rotate(60.43)" y="1.52">1015-TTF7-D-8</text>
<text transform="translate(266.13 483.21) rotate(63.3)" y="1.52">1216-TTF7-B-2</text>
<text transform="translate(262.26 485.04) rotate(66.17)" y="1.52">1216-TTF7-C-3</text>
<text transform="translate(256.55 481.62) rotate(68.91)" y="1.52">1016-HDG3-C-8</text>
<text transform="translate(253.01 482.58) rotate(71.53)" y="1.52">0217-TTF7-B-2</text>
<text transform="translate(249.51 483.63) rotate(74.15)" y="1.52">1016-HDG3-D-4</text>
<text transform="translate(245.98 484.55) rotate(76.77)" y="1.52">1015-TTF7-B-3</text>
<text transform="translate(242.8 487.39) rotate(79.39)" y="1.52">1216-TTF7-A-4</text>
<text transform="translate(238.76 485.52) rotate(82)" y="1.52">0217-HDG3-B-4</text>
<text transform="translate(235.27 487.1) rotate(84.61)" y="1.52">1016-HDG3-D-6</text>
<text transform="translate(231.61 487.43) rotate(87.22)" y="1.52">0217-HDG2-D-8</text>
<text transform="translate(227.94 487.74) rotate(89.83)" y="1.52">0217-TTF7-A-7</text>
<text transform="translate(224.17 489.71) rotate(-87.56)" y="1.52" text-anchor="end">1016-HDG3-D-2</text>
<text transform="translate(220.76 485.35) rotate(-84.95)" y="1.52" text-anchor="end">0217-HDG3-C-1</text>
<text transform="translate(217.24 484.58) rotate(-82.34)" y="1.52" text-anchor="end">1015-HDG2-B-3</text>
<text transform="translate(213.02 487.86) rotate(-79.73)" y="1.52" text-anchor="end">0217-TTF7-B-7</text>
<text transform="translate(209.92 484.58) rotate(-77.12)" y="1.52" text-anchor="end">1216-HDG3-C-2</text>
<text transform="translate(205.77 485.97) rotate(-74.52)" y="1.52" text-anchor="end">0217-HDG3-D-1</text>
<text transform="translate(202.37 484.33) rotate(-71.91)" y="1.52" text-anchor="end">1216-TTF7-A-4</text>
<text transform="translate(198.64 483.71) rotate(-69.3)" y="1.52" text-anchor="end">0217-TTF7-D-9</text>
<text transform="translate(195.18 482.28) rotate(-66.69)" y="1.52" text-anchor="end">1016-HDG3-B-5</text>
<text transform="translate(192.71 478.79) rotate(-64.08)" y="1.52" text-anchor="end">1215-HDG3-C-8</text>
<text transform="translate(188.82 478.32) rotate(-61.47)" y="1.52" text-anchor="end">1016-TTF7-A-8</text>
<text transform="translate(186.79 474.51) rotate(-58.86)" y="1.52" text-anchor="end">0217-HDG2-D-9</text>
<text transform="translate(183.28 473.29) rotate(-56.25)" y="1.52" text-anchor="end">1216-HDG3-B-1</text>
<text transform="translate(178.55 473.57) rotate(-53.64)" y="1.52" text-anchor="end">1015-HDG2-D-3</text>
<text transform="translate(175.89 470.86) rotate(-51.04)" y="1.52" text-anchor="end">0217-TTF7-B-5</text>
<text transform="translate(173.25 468.18) rotate(-48.43)" y="1.52" text-anchor="end">1215-HDG2-A-4</text>
<text transform="translate(169.1 467.09) rotate(-45.82)" y="1.52" text-anchor="end">1216-HDG2-A-6</text>
<text transform="translate(167.41 463.43) rotate(-43.21)" y="1.52" text-anchor="end">1216-HDG3-D-2</text>
<text transform="translate(164.99 460.55) rotate(-40.6)" y="1.52" text-anchor="end">1216-TTF7-C-1</text>
<text transform="translate(161.7 458.35) rotate(-37.99)" y="1.52" text-anchor="end">0217-HDG3-D-4</text>
<text transform="translate(160.04 454.85) rotate(-35.38)" y="1.52" text-anchor="end">1015-HDG2-C-6</text>
<text transform="translate(158.69 451.23) rotate(-32.77)" y="1.52" text-anchor="end">1016-HDG3-A-6</text>
<text transform="translate(156.68 448.07) rotate(-30.16)" y="1.52" text-anchor="end">1216-HDG3-A-2</text>
<text transform="translate(152.77 445.9) rotate(-27.56)" y="1.52" text-anchor="end">0217-TTF7-C-4</text>
<text transform="translate(152.3 441.87) rotate(-24.95)" y="1.52" text-anchor="end">1215-TTF7-C-2</text>
<text transform="translate(151.44 438.13) rotate(-22.34)" y="1.52" text-anchor="end">1216-HDG2-B-1</text>
<text transform="translate(149.84 434.72) rotate(-19.73)" y="1.52" text-anchor="end">0217-HDG2-C-5</text>
<text transform="translate(149.05 431.03) rotate(-17.12)" y="1.52" text-anchor="end">0217-TTF7-B-3</text>
<text transform="translate(147.57 427.54) rotate(-14.51)" y="1.52" text-anchor="end">0217-TTF7-A-3</text>
<text transform="translate(146.26 423.97) rotate(-11.9)" y="1.52" text-anchor="end">1215-HDG3-C-5</text>
<text transform="translate(146.1 420.15) rotate(-9.29)" y="1.52" text-anchor="end">0217-HDG2-B-7</text>
<text transform="translate(144.66 416.53) rotate(-6.68)" y="1.52" text-anchor="end">0217-HDG3-D-6</text>
<text transform="translate(145.16 412.68) rotate(-4.08)" y="1.52" text-anchor="end">1216-TTF7-B-10</text>
<text transform="translate(144.39 408.93) rotate(-1.47)" y="1.52" text-anchor="end">0217-TTF7-D-5</text>
<text transform="translate(144.49 405.14) rotate(1.14)" y="1.52" text-anchor="end">0217-HDG3-B-4</text>
<text transform="translate(144.04 401.32) rotate(3.75)" y="1.52" text-anchor="end">1015-HDG3-D-7</text>
<text transform="translate(145.9 397.68) rotate(6.36)" y="1.52" text-anchor="end">1016-HDG3-C-9</text>
<text transform="translate(146.24 393.94) rotate(8.97)" y="1.52" text-anchor="end">1016-HDG3-B-3</text>
<text transform="translate(145.84 390.03) rotate(11.58)" y="1.52" text-anchor="end">0217-HDG2-D-6</text>
<text transform="translate(146.9 386.38) rotate(14.19)" y="1.52" text-anchor="end">0217-HDG2-A-9</text>
<text transform="translate(149.07 383.07) rotate(16.8)" y="1.52" text-anchor="end">1216-HDG3-D-3</text>
</g>
<g fill="#000">
<rect x="152.63" y="358.56" width="2.8" height="2.8" transform="rotate(212.45 154.03 359.96)"/>
<rect x="154.92" y="355.14" width="2.8" height="2.8" transform="rotate(215.15 156.32 356.54)"/>
<rect x="217.84" y="297.12" width="2.8" height="2.8" transform="rotate(265.53 219.24 298.52)"/>
<rect x="250.72" y="303.52" width="2.8" height="2.8" transform="rotate(283.48 252.12 304.92)"/>
<rect x="268.62" y="309.13" width="2.8" height="2.8" transform="rotate(293.73 270.02 310.53)"/>
<rect x="294.33" y="337.08" width="2.8" height="2.8" transform="rotate(314.88 295.73 338.48)"/>
<rect x="297.2" y="340.74" width="2.8" height="2.8" transform="rotate(317.63 298.6 342.14)"/>
<rect x="303.37" y="347.63" width="2.8" height="2.8" transform="rotate(323.14 304.77 349.03)"/>
<rect x="305.74" y="351.62" width="2.8" height="2.8" transform="rotate(325.9 307.14 353.02)"/>
<rect x="308.22" y="355.5" width="2.8" height="2.8" transform="rotate(328.66 309.62 356.9)"/>
<rect x="309.05" y="360.3" width="2.8" height="2.8" transform="rotate(331.41 310.45 361.7)"/>
<rect x="312.77" y="363.53" width="2.8" height="2.8" transform="rotate(334.17 314.17 364.93)"/>
<rect x="314.47" y="367.83" width="2.8" height="2.8" transform="rotate(336.92 315.87 369.23)"/>
<rect x="321.58" y="370" width="2.8" height="2.8" transform="rotate(339.62 322.98 371.4)"/>
<rect x="323.27" y="374.36" width="2.8" height="2.8" transform="rotate(342.25 324.67 375.76)"/>
<rect x="324.66" y="378.83" width="2.8" height="2.8" transform="rotate(344.88 326.06 380.23)"/>
<rect x="328.78" y="382.82" width="2.8" height="2.8" transform="rotate(347.57 330.18 384.22)"/>
<rect x="329.99" y="392.78" width="2.8" height="2.8" transform="rotate(353.06 331.39 394.18)"/>
<rect x="332.34" y="402.72" width="2.8" height="2.8" transform="rotate(358.55 333.74 404.12)"/>
<rect x="331.83" y="407.79" width="2.8" height="2.8" transform="rotate(361.3 333.23 409.19)"/>
<rect x="331.07" y="412.8" width="2.8" height="2.8" transform="rotate(364.04 332.47 414.2)"/>
<rect x="330.94" y="417.85" width="2.8" height="2.8" transform="rotate(366.79 332.34 419.25)"/>
<rect x="330.41" y="422.88" width="2.8" height="2.8" transform="rotate(369.53 331.81 424.28)"/>
<rect x="329.66" y="427.89" width="2.8" height="2.8" transform="rotate(372.28 331.06 429.29)"/>
<rect x="328.41" y="432.62" width="2.8" height="2.8" transform="rotate(374.92 329.81 434.02)"/>
<rect x="329.64" y="437.69" width="2.8" height="2.8" transform="rotate(377.35 331.04 439.09)"/>
<rect x="328.49" y="454.28" width="2.8" height="2.8" transform="rotate(385.56 329.89 455.68)"/>
<rect x="325.95" y="459.25" width="2.8" height="2.8" transform="rotate(388.39 327.35 460.65)"/>
<rect x="319.24" y="467.03" width="2.8" height="2.8" transform="rotate(393.55 320.64 468.43)"/>
<rect x="317.06" y="471.46" width="2.8" height="2.8" transform="rotate(396.05 318.46 472.86)"/>
<rect x="313.41" y="481.52" width="2.8" height="2.8" transform="rotate(401.15 314.81 482.92)"/>
<rect x="309.5" y="485.32" width="2.8" height="2.8" transform="rotate(403.85 310.9 486.72)"/>
<rect x="305.4" y="488.9" width="2.8" height="2.8" transform="rotate(406.55 306.8 490.3)"/>
<rect x="301.56" y="492.75" width="2.8" height="2.8" transform="rotate(409.25 302.96 494.15)"/>
<rect x="294.74" y="502.16" width="2.8" height="2.8" transform="rotate(414.73 296.14 503.56)"/>
<rect x="285.87" y="510.41" width="2.8" height="2.8" transform="rotate(420.43 287.27 511.81)"/>
<rect x="280.67" y="513.5" width="2.8" height="2.8" transform="rotate(423.3 282.07 514.9)"/>
<rect x="275.19" y="516.08" width="2.8" height="2.8" transform="rotate(426.17 276.59 517.48)"/>
<rect x="247.88" y="520.62" width="2.8" height="2.8" transform="rotate(439.39 249.28 522.02)"/>
<rect x="242.53" y="520.93" width="2.8" height="2.8" transform="rotate(442 243.93 522.33)"/>
<rect x="237.36" y="522.7" width="2.8" height="2.8" transform="rotate(444.61 238.76 524.1)"/>
<rect x="232.01" y="523.15" width="2.8" height="2.8" transform="rotate(447.22 233.41 524.55)"/>
<rect x="226.64" y="521.57" width="2.8" height="2.8" transform="rotate(449.83 228.04 522.97)"/>
<rect x="216.09" y="520.97" width="2.8" height="2.8" transform="rotate(455.05 217.49 522.37)"/>
<rect x="210.89" y="520.01" width="2.8" height="2.8" transform="rotate(457.66 212.29 521.41)"/>
<rect x="200.24" y="519.41" width="2.8" height="2.8" transform="rotate(462.88 201.64 520.81)"/>
<rect x="190.03" y="516.42" width="2.8" height="2.8" transform="rotate(468.09 191.43 517.82)"/>
<rect x="175.07" y="510.81" width="2.8" height="2.8" transform="rotate(475.92 176.47 512.21)"/>
<rect x="170.59" y="507.88" width="2.8" height="2.8" transform="rotate(478.53 171.99 509.28)"/>
<rect x="166.17" y="504.92" width="2.8" height="2.8" transform="rotate(481.14 167.57 506.32)"/>
<rect x="161.23" y="502.79" width="2.8" height="2.8" transform="rotate(483.75 162.63 504.19)"/>
<rect x="152.19" y="497.04" width="2.8" height="2.8" transform="rotate(488.96 153.59 498.44)"/>
<rect x="141.97" y="492.17" width="2.8" height="2.8" transform="rotate(494.18 143.37 493.57)"/>
<rect x="131.01" y="479.83" width="2.8" height="2.8" transform="rotate(502.01 132.41 481.23)"/>
<rect x="128.34" y="474.97" width="2.8" height="2.8" transform="rotate(504.62 129.74 476.37)"/>
<rect x="119.92" y="460.91" width="2.8" height="2.8" transform="rotate(512.44 121.32 462.31)"/>
<rect x="118.74" y="455.44" width="2.8" height="2.8" transform="rotate(515.05 120.14 456.84)"/>
<rect x="108.49" y="430.23" width="2.8" height="2.8" transform="rotate(528.1 109.89 431.63)"/>
<rect x="108.02" y="424.75" width="2.8" height="2.8" transform="rotate(530.71 109.42 426.15)"/>
<rect x="106.35" y="419.46" width="2.8" height="2.8" transform="rotate(533.32 107.75 420.86)"/>
<rect x="107.53" y="408.44" width="2.8" height="2.8" transform="rotate(538.53 108.93 409.84)"/>
<rect x="105.93" y="403" width="2.8" height="2.8" transform="rotate(541.14 107.33 404.4)"/>
<rect x="105.56" y="397.48" width="2.8" height="2.8" transform="rotate(543.75 106.96 398.88)"/>
<rect x="108.04" y="381.17" width="2.8" height="2.8" transform="rotate(551.58 109.44 382.57)"/>
<rect x="109.71" y="375.93" width="2.8" height="2.8" transform="rotate(554.19 111.11 377.33)"/>
</g>
</g>
<text x="8.8" y="283.2" font-size="3.4" style="fill:#333">Tree scale: 1</text>
<path d="M30.2 282H82.6M30.2 281.2V282.8M82.6 281.2V282.8" stroke="#888" stroke-width="0.35" fill="none"/>
<rect x="16.3" y="293.6" width="63.3" height="154.6" fill="#fff" stroke="#e6e6e6" stroke-width="0.4"/>
<text x="18" y="298.4" font-size="4" font-weight="bold">Colored ranges</text>
<path d="M18 300.7H78" stroke="#aaa" stroke-width="0.3"/>
<rect x="17.8" y="303" width="5.2" height="5" fill="#FFFF80" stroke="#666" stroke-opacity="0.45" stroke-width="0.3"/><text x="25.8" y="306.9" font-size="3.9">Fusarium</text>
<rect x="17.8" y="311.12" width="5.2" height="5" fill="#A3A346" stroke="#666" stroke-opacity="0.45" stroke-width="0.3"/><text x="25.8" y="315.02" font-size="3.9">Trichoderma</text>
<rect x="17.8" y="319.24" width="5.2" height="5" fill="#FFB060" stroke="#666" stroke-opacity="0.45" stroke-width="0.3"/><text x="25.8" y="323.14" font-size="3.9">Chaetomium</text>
<rect x="17.8" y="327.36" width="5.2" height="5" fill="#FF8000" stroke="#666" stroke-opacity="0.45" stroke-width="0.3"/><text x="25.8" y="331.26" font-size="3.9">Neurospora</text>
<rect x="17.8" y="335.48" width="5.2" height="5" fill="#FF6060" stroke="#666" stroke-opacity="0.45" stroke-width="0.3"/><text x="25.8" y="339.38" font-size="3.9">Nigrospora</text>
<rect x="17.8" y="343.6" width="5.2" height="5" fill="#FF0000" stroke="#666" stroke-opacity="0.45" stroke-width="0.3"/><text x="25.8" y="347.5" font-size="3.9">Microdochium</text>
<rect x="17.8" y="351.72" width="5.2" height="5" fill="#9400E0" stroke="#666" stroke-opacity="0.45" stroke-width="0.3"/><text x="25.8" y="355.62" font-size="3.9">Cladosporium</text>
<rect x="17.8" y="359.84" width="5.2" height="5" fill="#4B0082" stroke="#666" stroke-opacity="0.45" stroke-width="0.3"/><text x="25.8" y="363.74" font-size="3.9">Botrytis</text>
<rect x="17.8" y="367.96" width="5.2" height="5" fill="#2424FF" stroke="#666" stroke-opacity="0.45" stroke-width="0.3"/><text x="25.8" y="371.86" font-size="3.9">Alternaria</text>
<rect x="17.8" y="376.08" width="5.2" height="5" fill="#008000" stroke="#666" stroke-opacity="0.45" stroke-width="0.3"/><text x="25.8" y="379.98" font-size="3.9">Phaeosphaeria/Leptosphaeria</text>
<rect x="17.8" y="384.2" width="5.2" height="5" fill="#55AD55" stroke="#666" stroke-opacity="0.45" stroke-width="0.3"/><text x="25.8" y="388.1" font-size="3.9">Epicoccum</text>
<rect x="17.8" y="392.32" width="5.2" height="5" fill="#FF00DC" stroke="#666" stroke-opacity="0.45" stroke-width="0.3"/><text x="25.8" y="396.22" font-size="3.9">Mortierella</text>
<rect x="17.8" y="400.44" width="5.2" height="5" fill="#FF82F4" stroke="#666" stroke-opacity="0.45" stroke-width="0.3"/><text x="25.8" y="404.34" font-size="3.9">Mucor</text>
<rect x="17.8" y="408.56" width="5.2" height="5" fill="#B5A5A0" stroke="#666" stroke-opacity="0.45" stroke-width="0.3"/><text x="25.8" y="412.46" font-size="3.9">Boeremia</text>
<rect x="17.8" y="416.68" width="5.2" height="5" fill="#D8A8EA" stroke="#666" stroke-opacity="0.45" stroke-width="0.3"/><text x="25.8" y="420.58" font-size="3.9">Waitea</text>
<rect x="17.8" y="424.8" width="5.2" height="5" fill="#C8C820" stroke="#666" stroke-opacity="0.45" stroke-width="0.3"/><text x="25.8" y="428.7" font-size="3.9">Cladorrhinum</text>
<rect x="17.8" y="432.92" width="5.2" height="5" fill="#D9D9FF" stroke="#666" stroke-opacity="0.45" stroke-width="0.3"/><text x="25.8" y="436.82" font-size="3.9">Stagonosporopsis</text>
<rect x="17.8" y="441.04" width="5.2" height="5" fill="#7A7A7A" stroke="#666" stroke-opacity="0.45" stroke-width="0.3"/><text x="25.8" y="444.94" font-size="3.9">NI</text>
<text class="ser" x="179.6" y="545.6" font-size="8.4" text-anchor="middle">(B)</text>
</svg>
</body></html>
